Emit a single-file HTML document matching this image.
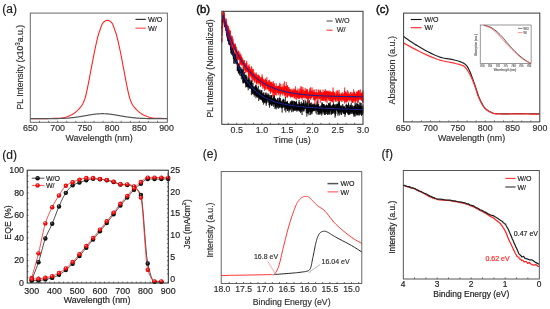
<!DOCTYPE html>
<html><head><meta charset="utf-8"><style>
html,body{margin:0;padding:0;background:#fff;overflow:hidden;}
svg{display:block;font-family:"Liberation Sans", sans-serif;will-change:transform;transform:translateZ(0);}
</style></head><body>
<svg width="550" height="309" viewBox="0 0 550 309">
<rect width="550" height="309" fill="#fff"/>
<text x="2.30" y="12.60" font-size="12" text-anchor="start" fill="#222" stroke="#222" stroke-width="0.18">(a)</text>
<polyline points="30.30,118.70 47.40,118.60 49.00,118.55 51.27,118.50 53.93,118.42 56.70,118.33 59.28,118.19 61.40,118.00 63.04,117.77 64.42,117.50 65.62,117.19 66.71,116.84 67.78,116.45 68.90,116.00 70.05,115.51 71.16,114.99 72.24,114.42 73.31,113.79 74.36,113.09 75.40,112.30 76.46,111.40 77.55,110.38 78.62,109.29 79.64,108.17 80.58,107.06 81.40,106.00 82.09,104.97 82.68,103.94 83.18,102.92 83.62,101.91 84.02,100.94 84.40,100.00 84.73,99.17 84.99,98.44 85.20,97.75 85.40,97.00 85.63,96.11 85.90,95.00 86.23,93.62 86.59,92.04 86.98,90.31 87.36,88.52 87.74,86.72 88.10,85.00 88.43,83.33 88.76,81.67 89.07,80.00 89.38,78.33 89.69,76.67 90.00,75.00 90.32,73.33 90.63,71.67 90.95,70.00 91.27,68.33 91.58,66.67 91.90,65.00 92.21,63.33 92.53,61.67 92.84,60.00 93.15,58.33 93.47,56.67 93.80,55.00 94.13,53.33 94.47,51.67 94.82,50.00 95.17,48.33 95.53,46.67 95.90,45.00 96.29,43.28 96.70,41.48 97.13,39.69 97.54,37.96 97.94,36.38 98.30,35.00 98.62,33.88 98.91,32.96 99.19,32.19 99.45,31.48 99.72,30.78 100.00,30.00 100.29,29.14 100.59,28.26 100.88,27.38 101.18,26.52 101.49,25.72 101.80,25.00 102.10,24.37 102.39,23.80 102.69,23.29 103.01,22.83 103.37,22.40 103.80,22.00 104.31,21.60 104.88,21.21 105.50,20.86 106.14,20.57 106.78,20.37 107.40,20.30 108.02,20.37 108.66,20.57 109.30,20.86 109.92,21.21 110.49,21.60 111.00,22.00 111.43,22.40 111.79,22.83 112.11,23.29 112.41,23.80 112.70,24.37 113.00,25.00 113.31,25.72 113.62,26.52 113.92,27.38 114.21,28.26 114.51,29.14 114.80,30.00 115.08,30.78 115.35,31.48 115.61,32.19 115.89,32.96 116.18,33.88 116.50,35.00 116.86,36.38 117.26,37.96 117.68,39.69 118.10,41.48 118.51,43.28 118.90,45.00 119.27,46.67 119.63,48.33 119.98,50.00 120.33,51.67 120.67,53.33 121.00,55.00 121.33,56.67 121.65,58.33 121.96,60.00 122.27,61.67 122.59,63.33 122.90,65.00 123.22,66.67 123.53,68.33 123.85,70.00 124.17,71.67 124.48,73.33 124.80,75.00 125.11,76.67 125.42,78.33 125.73,80.00 126.04,81.67 126.37,83.33 126.70,85.00 127.06,86.72 127.44,88.52 127.83,90.31 128.21,92.04 128.57,93.62 128.90,95.00 129.17,96.11 129.40,97.00 129.60,97.75 129.81,98.44 130.07,99.17 130.40,100.00 130.78,100.94 131.18,101.91 131.62,102.92 132.12,103.94 132.71,104.97 133.40,106.00 134.22,107.06 135.16,108.17 136.18,109.29 137.25,110.38 138.34,111.40 139.40,112.30 140.44,113.09 141.49,113.79 142.56,114.42 143.64,114.99 144.75,115.51 145.90,116.00 147.02,116.45 148.09,116.84 149.18,117.19 150.38,117.50 151.76,117.77 153.40,118.00 155.52,118.19 158.10,118.33 160.87,118.42 163.53,118.50 165.80,118.55 167.40,118.60 167.40,118.70" fill="none" stroke="#f22" stroke-width="1.1" stroke-linejoin="round"/>
<polyline points="30.30,118.70 30.64,118.70 30.99,118.70 31.33,118.70 31.67,118.70 32.01,118.70 32.36,118.70 32.70,118.70 33.04,118.70 33.38,118.70 33.73,118.70 34.07,118.70 34.41,118.70 34.76,118.70 35.10,118.70 35.44,118.70 35.78,118.70 36.13,118.70 36.47,118.70 36.81,118.70 37.16,118.70 37.50,118.70 37.84,118.70 38.18,118.70 38.53,118.70 38.87,118.70 39.21,118.70 39.55,118.69 39.90,118.69 40.24,118.69 40.58,118.69 40.93,118.69 41.27,118.69 41.61,118.69 41.95,118.69 42.30,118.69 42.64,118.69 42.98,118.69 43.32,118.69 43.67,118.69 44.01,118.69 44.35,118.69 44.70,118.68 45.04,118.68 45.38,118.68 45.72,118.68 46.07,118.68 46.41,118.68 46.75,118.68 47.09,118.68 47.44,118.67 47.78,118.67 48.12,118.67 48.47,118.67 48.81,118.67 49.15,118.66 49.49,118.66 49.84,118.66 50.18,118.66 50.52,118.65 50.87,118.65 51.21,118.65 51.55,118.64 51.89,118.64 52.24,118.64 52.58,118.63 52.92,118.63 53.26,118.62 53.61,118.62 53.95,118.62 54.29,118.61 54.64,118.61 54.98,118.60 55.32,118.59 55.66,118.59 56.01,118.58 56.35,118.57 56.69,118.57 57.03,118.56 57.38,118.55 57.72,118.54 58.06,118.54 58.41,118.53 58.75,118.52 59.09,118.51 59.43,118.50 59.78,118.49 60.12,118.48 60.46,118.46 60.80,118.45 61.15,118.44 61.49,118.43 61.83,118.41 62.18,118.40 62.52,118.39 62.86,118.37 63.20,118.35 63.55,118.34 63.89,118.32 64.23,118.30 64.58,118.28 64.92,118.27 65.26,118.25 65.60,118.23 65.95,118.20 66.29,118.18 66.63,118.16 66.97,118.14 67.32,118.11 67.66,118.09 68.00,118.06 68.35,118.04 68.69,118.01 69.03,117.98 69.37,117.95 69.72,117.92 70.06,117.89 70.40,117.86 70.74,117.83 71.09,117.79 71.43,117.76 71.77,117.72 72.12,117.69 72.46,117.65 72.80,117.61 73.14,117.57 73.49,117.53 73.83,117.49 74.17,117.45 74.51,117.41 74.86,117.37 75.20,117.32 75.54,117.28 75.89,117.23 76.23,117.19 76.57,117.14 76.91,117.09 77.26,117.04 77.60,116.99 77.94,116.94 78.28,116.89 78.63,116.83 78.97,116.78 79.31,116.73 79.66,116.67 80.00,116.62 80.34,116.56 80.68,116.51 81.03,116.45 81.37,116.39 81.71,116.33 82.06,116.27 82.40,116.21 82.74,116.16 83.08,116.10 83.43,116.04 83.77,115.98 84.11,115.91 84.45,115.85 84.80,115.79 85.14,115.73 85.48,115.67 85.83,115.61 86.17,115.55 86.51,115.49 86.85,115.43 87.20,115.37 87.54,115.31 87.88,115.25 88.22,115.19 88.57,115.13 88.91,115.07 89.25,115.01 89.60,114.95 89.94,114.89 90.28,114.84 90.62,114.78 90.97,114.73 91.31,114.67 91.65,114.62 92.00,114.57 92.34,114.52 92.68,114.47 93.02,114.42 93.37,114.37 93.71,114.33 94.05,114.28 94.39,114.24 94.74,114.20 95.08,114.15 95.42,114.12 95.77,114.08 96.11,114.04 96.45,114.01 96.79,113.97 97.14,113.94 97.48,113.91 97.82,113.89 98.16,113.86 98.51,113.84 98.85,113.81 99.19,113.79 99.54,113.78 99.88,113.76 100.22,113.74 100.56,113.73 100.91,113.72 101.25,113.71 101.59,113.71 101.93,113.70 102.28,113.70 102.62,113.70 102.96,113.70 103.31,113.71 103.65,113.71 103.99,113.72 104.33,113.73 104.68,113.74 105.02,113.75 105.36,113.77 105.70,113.79 106.05,113.81 106.39,113.83 106.73,113.85 107.08,113.88 107.42,113.90 107.76,113.93 108.10,113.96 108.45,114.00 108.79,114.03 109.13,114.07 109.48,114.10 109.82,114.14 110.16,114.18 110.50,114.22 110.85,114.27 111.19,114.31 111.53,114.36 111.87,114.41 112.22,114.45 112.56,114.50 112.90,114.55 113.25,114.61 113.59,114.66 113.93,114.71 114.27,114.77 114.62,114.82 114.96,114.88 115.30,114.93 115.64,114.99 115.99,115.05 116.33,115.11 116.67,115.17 117.02,115.23 117.36,115.29 117.70,115.35 118.04,115.41 118.39,115.47 118.73,115.53 119.07,115.59 119.41,115.65 119.76,115.71 120.10,115.77 120.44,115.84 120.79,115.90 121.13,115.96 121.47,116.02 121.81,116.08 122.16,116.14 122.50,116.20 122.84,116.26 123.19,116.32 123.53,116.37 123.87,116.43 124.21,116.49 124.56,116.55 124.90,116.60 125.24,116.66 125.58,116.71 125.93,116.77 126.27,116.82 126.61,116.87 126.96,116.92 127.30,116.97 127.64,117.02 127.98,117.07 128.33,117.12 128.67,117.17 129.01,117.22 129.35,117.26 129.70,117.31 130.04,117.35 130.38,117.40 130.73,117.44 131.07,117.48 131.41,117.52 131.75,117.56 132.10,117.60 132.44,117.64 132.78,117.68 133.12,117.71 133.47,117.75 133.81,117.78 134.15,117.82 134.50,117.85 134.84,117.88 135.18,117.91 135.52,117.94 135.87,117.97 136.21,118.00 136.55,118.03 136.90,118.05 137.24,118.08 137.58,118.11 137.92,118.13 138.27,118.15 138.61,118.18 138.95,118.20 139.29,118.22 139.64,118.24 139.98,118.26 140.32,118.28 140.67,118.30 141.01,118.32 141.35,118.33 141.69,118.35 142.04,118.37 142.38,118.38 142.72,118.40 143.06,118.41 143.41,118.42 143.75,118.44 144.09,118.45 144.44,118.46 144.78,118.47 145.12,118.48 145.46,118.49 145.81,118.51 146.15,118.51 146.49,118.52 146.84,118.53 147.18,118.54 147.52,118.55 147.86,118.56 148.21,118.57 148.55,118.57 148.89,118.58 149.23,118.59 149.58,118.59 149.92,118.60 150.26,118.60 150.61,118.61 150.95,118.61 151.29,118.62 151.63,118.62 151.98,118.63 152.32,118.63 152.66,118.64 153.00,118.64 153.35,118.64 153.69,118.65 154.03,118.65 154.38,118.65 154.72,118.66 155.06,118.66 155.40,118.66 155.75,118.66 156.09,118.67 156.43,118.67 156.77,118.67 157.12,118.67 157.46,118.67 157.80,118.67 158.15,118.68 158.49,118.68 158.83,118.68 159.17,118.68 159.52,118.68 159.86,118.68 160.20,118.68 160.55,118.69 160.89,118.69 161.23,118.69 161.57,118.69 161.92,118.69 162.26,118.69 162.60,118.69 162.94,118.69 163.29,118.69 163.63,118.69 163.97,118.69 164.32,118.69 164.66,118.69 165.00,118.69 165.34,118.69 165.69,118.69 166.03,118.70 166.37,118.70 166.71,118.70 167.06,118.70 167.40,118.70" fill="none" stroke="#555" stroke-width="1.2" stroke-linejoin="round"/>
<rect x="30.3" y="13.1" width="137.10" height="109.20" fill="none" stroke="#6a6a6a" stroke-width="1.0"/>
<text x="30.40" y="131.00" font-size="8.9" text-anchor="middle" fill="#333" stroke="#333" stroke-width="0.18">650</text>
<text x="57.64" y="131.00" font-size="8.9" text-anchor="middle" fill="#333" stroke="#333" stroke-width="0.18">700</text>
<text x="84.88" y="131.00" font-size="8.9" text-anchor="middle" fill="#333" stroke="#333" stroke-width="0.18">750</text>
<text x="112.12" y="131.00" font-size="8.9" text-anchor="middle" fill="#333" stroke="#333" stroke-width="0.18">800</text>
<text x="139.36" y="131.00" font-size="8.9" text-anchor="middle" fill="#333" stroke="#333" stroke-width="0.18">850</text>
<text x="166.60" y="131.00" font-size="8.9" text-anchor="middle" fill="#333" stroke="#333" stroke-width="0.18">900</text>
<line x1="39.48" y1="122.30" x2="39.48" y2="120.80" stroke="#555" stroke-width="0.8"/>
<line x1="48.56" y1="122.30" x2="48.56" y2="120.80" stroke="#555" stroke-width="0.8"/>
<line x1="57.64" y1="122.30" x2="57.64" y2="120.80" stroke="#555" stroke-width="0.8"/>
<line x1="66.72" y1="122.30" x2="66.72" y2="120.80" stroke="#555" stroke-width="0.8"/>
<line x1="75.80" y1="122.30" x2="75.80" y2="120.80" stroke="#555" stroke-width="0.8"/>
<line x1="84.88" y1="122.30" x2="84.88" y2="120.80" stroke="#555" stroke-width="0.8"/>
<line x1="93.96" y1="122.30" x2="93.96" y2="120.80" stroke="#555" stroke-width="0.8"/>
<line x1="103.04" y1="122.30" x2="103.04" y2="120.80" stroke="#555" stroke-width="0.8"/>
<line x1="112.12" y1="122.30" x2="112.12" y2="120.80" stroke="#555" stroke-width="0.8"/>
<line x1="121.20" y1="122.30" x2="121.20" y2="120.80" stroke="#555" stroke-width="0.8"/>
<line x1="130.28" y1="122.30" x2="130.28" y2="120.80" stroke="#555" stroke-width="0.8"/>
<line x1="139.36" y1="122.30" x2="139.36" y2="120.80" stroke="#555" stroke-width="0.8"/>
<line x1="148.44" y1="122.30" x2="148.44" y2="120.80" stroke="#555" stroke-width="0.8"/>
<line x1="157.52" y1="122.30" x2="157.52" y2="120.80" stroke="#555" stroke-width="0.8"/>
<text x="99.00" y="140.60" font-size="8.9" text-anchor="middle" fill="#333" stroke="#333" stroke-width="0.18">Wavelength (nm)</text>
<text x="23.50" y="67.20" font-size="8.6" text-anchor="middle" fill="#333" stroke="#333" stroke-width="0.18" transform="rotate(-90 23.5 67.2)">PL Intensity (x10<tspan font-size="6.3" dy="-3">3</tspan><tspan dy="3">a.u.)</tspan></text>
<line x1="135.50" y1="19.40" x2="145.80" y2="19.40" stroke="#333" stroke-width="1.2"/>
<text x="148.00" y="22.10" font-size="7.2" text-anchor="start" fill="#222" stroke="#222" stroke-width="0.18">W/O</text>
<line x1="135.50" y1="28.20" x2="145.80" y2="28.20" stroke="#f55" stroke-width="1.2"/>
<text x="148.00" y="30.90" font-size="7.2" text-anchor="start" fill="#222" stroke="#222" stroke-width="0.18">W/</text>
<text x="196.20" y="13.20" font-size="11.4" text-anchor="start" fill="#111" stroke="#111" stroke-width="0.18" style="stroke-width:0.45px">(b)</text>
<polyline points="221.80,29.98 221.86,27.07 221.92,26.85 221.98,28.18 222.04,27.15 222.09,26.45 222.15,27.88 222.21,26.33 222.27,19.31 222.33,22.49 222.39,23.20 222.45,20.95 222.51,23.44 222.56,26.76 222.62,24.73 222.68,18.60 222.74,19.92 222.80,20.43 222.86,16.42 222.92,22.22 222.98,18.87 223.04,13.32 223.09,20.92 223.15,15.68 223.21,13.39 223.27,15.87 223.33,18.74 223.39,19.37 223.45,17.96 223.51,13.43 223.56,15.71 223.62,14.10 223.68,16.51 223.74,12.44 223.80,19.31 223.86,20.57 223.92,11.87 223.98,17.32 224.04,22.56 224.09,20.46 224.15,21.54 224.21,22.35 224.27,22.42 224.33,24.82 224.39,22.91 224.45,19.81 224.51,16.67 224.57,25.15 224.62,27.13 224.68,22.29 224.74,24.88 224.80,26.58 224.86,22.32 224.92,23.87 224.98,26.80 225.04,23.03 225.09,24.19 225.15,23.98 225.21,22.12 225.27,21.68 225.33,27.45 225.39,28.37 225.45,26.55 225.51,28.06 225.57,27.45 225.62,26.91 225.68,28.80 225.74,28.35 225.80,26.58 225.86,30.60 225.92,29.29 225.98,20.98 226.04,29.37 226.09,29.61 226.15,31.06 226.21,27.90 226.27,30.69 226.33,29.61 226.39,29.97 226.45,28.98 226.51,27.25 226.57,33.64 226.62,35.44 226.68,30.34 226.74,33.41 226.80,24.06 226.86,27.88 226.92,27.99 226.98,36.02 227.04,33.34 227.09,33.44 227.15,37.71 227.21,32.64 227.27,30.40 227.33,33.19 227.39,36.24 227.45,36.28 227.51,30.28 227.57,32.09 227.62,30.85 227.68,37.51 227.74,32.85 227.80,32.49 227.86,40.63 227.92,40.77 227.98,35.96 228.04,40.78 228.10,35.17 228.15,38.33 228.21,34.41 228.27,41.90 228.33,37.28 228.39,40.98 228.45,38.60 228.51,37.70 228.57,37.56 228.62,41.27 228.68,37.34 228.74,41.74 228.80,43.39 228.86,42.78 228.92,44.64 228.98,42.74 229.04,37.26 229.10,43.71 229.15,40.78 229.21,40.95 229.27,41.92 229.33,41.58 229.39,44.56 229.45,38.21 229.51,45.19 229.57,40.55 229.62,44.78 229.68,45.03 229.74,39.48 229.80,41.25 229.86,41.66 229.92,41.27 229.98,43.37 230.04,44.96 230.10,45.06 230.15,38.68 230.21,43.71 230.27,42.17 230.33,43.57 230.39,47.27 230.45,46.25 230.51,47.41 230.57,39.65 230.62,49.68 230.68,44.72 230.74,41.17 230.80,53.50 230.86,48.66 230.92,46.50 230.98,49.66 231.04,46.97 231.10,49.82 231.15,47.05 231.21,46.76 231.27,48.29 231.33,45.74 231.39,51.67 231.45,41.03 231.51,50.13 231.57,50.16 231.63,50.62 231.68,52.29 231.74,47.44 231.80,54.91 231.86,47.91 231.92,50.56 231.98,47.38 232.04,53.39 232.10,46.66 232.15,53.61 232.21,53.27 232.27,51.86 232.33,49.11 232.39,52.97 232.45,51.27 232.51,52.90 232.57,52.59 232.63,54.45 232.68,49.94 232.74,52.51 232.80,53.14 232.86,53.37 232.92,49.38 232.98,56.26 233.04,52.82 233.10,50.74 233.15,53.89 233.21,56.03 233.27,46.43 233.33,58.80 233.39,50.42 233.45,56.07 233.51,55.24 233.57,56.94 233.63,56.79 233.68,58.04 233.74,52.25 233.80,57.67 233.86,58.82 233.92,58.51 233.98,63.43 234.04,55.58 234.10,63.89 234.16,59.06 234.21,56.71 234.27,57.39 234.33,60.29 234.39,57.24 234.45,58.89 234.51,57.65 234.57,59.63 234.63,55.98 234.68,53.71 234.74,52.29 234.80,59.92 234.86,58.27 234.92,54.47 234.98,60.23 235.04,56.33 235.10,53.77 235.16,61.91 235.21,59.20 235.27,54.39 235.33,56.56 235.39,55.73 235.45,60.68 235.51,62.14 235.57,63.63 235.63,58.94 235.68,57.43 235.74,60.71 235.80,56.24 235.86,60.93 235.92,60.24 235.98,59.08 236.04,62.46 236.10,59.63 236.16,53.83 236.21,61.98 236.27,62.59 236.33,58.16 236.39,61.39 236.45,64.22 236.51,60.12 236.57,62.54 236.63,63.72 236.68,59.08 236.74,61.00 236.80,62.95 236.86,63.73 236.92,62.37 236.98,62.77 237.04,64.20 237.10,57.09 237.16,64.84 237.21,71.03 237.27,68.11 237.33,67.28 237.39,64.21 237.45,61.67 237.51,61.99 237.57,71.22 237.63,65.26 237.69,65.41 237.74,66.22 237.80,67.66 237.86,70.82 237.92,65.92 237.98,64.76 238.04,64.09 238.10,64.87 238.16,68.48 238.21,66.49 238.27,69.01 238.33,67.68 238.39,70.19 238.45,73.66 238.51,69.45 238.57,67.16 238.63,72.60 238.69,64.02 238.74,62.97 238.80,66.47 238.86,67.02 238.92,64.89 238.98,64.00 239.04,69.19 239.10,67.75 239.16,69.01 239.21,73.21 239.27,68.46 239.33,66.88 239.39,68.01 239.45,70.65 239.51,75.37 239.57,69.44 239.63,64.11 239.69,70.13 239.74,70.94 239.80,70.94 239.86,72.24 239.92,67.55 239.98,67.24 240.04,72.17 240.10,72.31 240.16,71.48 240.21,70.40 240.27,70.73 240.33,69.40 240.39,73.23 240.45,73.02 240.51,69.68 240.57,70.96 240.63,72.43 240.69,69.63 240.74,71.71 240.80,76.03 240.86,66.89 240.92,71.70 240.98,73.25 241.04,71.69 241.10,70.75 241.16,68.58 241.22,73.61 241.27,73.99 241.33,79.33 241.39,71.01 241.45,74.67 241.51,69.79 241.57,74.01 241.63,72.81 241.69,74.84 241.74,73.37 241.80,76.78 241.86,72.77 241.92,71.74 241.98,76.22 242.04,73.04 242.10,74.82 242.16,74.41 242.22,75.54 242.27,68.84 242.33,75.43 242.39,77.36 242.45,73.13 242.51,70.44 242.57,75.03 242.63,74.72 242.69,73.39 242.74,80.22 242.80,82.36 242.86,75.65 242.92,78.67 242.98,69.71 243.04,78.21 243.10,83.63 243.16,76.84 243.22,77.27 243.27,72.71 243.33,66.41 243.39,75.42 243.45,82.84 243.51,75.95 243.57,74.36 243.63,78.74 243.69,77.18 243.74,79.73 243.80,76.77 243.86,76.83 243.92,81.59 243.98,74.69 244.04,78.56 244.10,82.32 244.16,80.34 244.22,77.41 244.27,80.76 244.33,77.20 244.39,78.35 244.45,77.14 244.51,72.11 244.57,80.36 244.63,77.44 244.69,83.18 244.75,80.81 244.80,78.89 244.86,76.80 244.92,78.73 244.98,82.32 245.04,77.21 245.10,80.67 245.16,80.76 245.22,78.60 245.27,75.00 245.33,75.10 245.39,78.06 245.45,82.25 245.51,78.70 245.57,84.52 245.63,81.08 245.69,80.89 245.75,87.42 245.80,74.53 245.86,81.58 245.92,82.40 245.98,77.49 246.04,83.63 246.10,77.74 246.16,75.18 246.22,79.62 246.27,78.93 246.33,79.91 246.39,79.21 246.45,83.40 246.51,86.25 246.57,80.17 246.63,86.98 246.69,81.46 246.75,77.70 246.80,81.64 246.86,82.65 246.92,76.47 246.98,82.57 247.04,83.32 247.10,81.48 247.16,81.02 247.22,79.93 247.27,87.39 247.33,81.99 247.39,80.24 247.45,85.33 247.51,84.21 247.57,86.69 247.63,81.25 247.69,83.11 247.75,81.33 247.80,84.89 247.86,79.65 247.92,83.75 247.98,85.55 248.04,82.41 248.10,87.29 248.16,84.81 248.22,90.33 248.28,87.16 248.33,86.12 248.39,76.48 248.45,85.37 248.51,82.06 248.57,84.30 248.63,86.62 248.69,87.56 248.75,84.71 248.80,84.71 248.86,79.52 248.92,86.66 248.98,87.08 249.04,86.54 249.10,83.86 249.16,86.93 249.22,77.75 249.28,86.38 249.33,82.26 249.39,85.20 249.45,83.88 249.51,82.95 249.57,83.78 249.63,83.38 249.69,88.62 249.75,83.90 249.80,88.46 249.86,85.34 249.92,87.26 249.98,79.69 250.04,86.82 250.10,85.13 250.16,84.77 250.22,83.93 250.28,84.37 250.33,88.06 250.39,88.19 250.45,87.37 250.51,87.01 250.57,86.62 250.63,81.52 250.69,87.09 250.75,86.92 250.80,88.97 250.86,88.52 250.92,86.83 250.98,86.04 251.04,82.01 251.10,87.01 251.16,87.08 251.22,86.73 251.28,79.72 251.33,82.05 251.39,95.10 251.45,87.84 251.51,86.66 251.57,81.09 251.63,88.74 251.69,86.02 251.75,86.38 251.81,86.37 251.86,87.82 251.92,90.16 251.98,87.94 252.04,88.52 252.10,93.94 252.16,82.66 252.22,92.72 252.28,90.71 252.33,86.34 252.39,85.83 252.45,85.64 252.51,94.17 252.57,86.54 252.63,86.54 252.69,88.55 252.75,92.63 252.81,89.54 252.86,88.04 252.92,87.01 252.98,82.67 253.04,86.93 253.10,89.35 253.16,89.60 253.22,87.25 253.28,88.88 253.33,90.96 253.39,88.98 253.45,89.59 253.51,91.29 253.57,93.45 253.63,88.67 253.69,87.46 253.75,94.93 253.81,91.53 253.86,92.28 253.92,86.34 253.98,91.37 254.04,90.41 254.10,89.14 254.16,87.73 254.22,88.46 254.28,96.61 254.33,91.36 254.39,91.63 254.45,92.31 254.51,90.84 254.57,90.03 254.63,94.43 254.69,90.54 254.75,89.12 254.81,93.11 254.86,92.70 254.92,86.43 254.98,91.21 255.04,87.80 255.10,87.91 255.16,92.50 255.22,92.01 255.28,95.40 255.34,86.03 255.39,89.14 255.45,90.38 255.51,88.03 255.57,95.65 255.63,91.12 255.69,91.27 255.75,93.79 255.81,84.74 255.86,89.19 255.92,90.05 255.98,98.18 256.04,88.66 256.10,85.03 256.16,93.08 256.22,86.65 256.28,93.91 256.34,91.11 256.39,96.15 256.45,95.26 256.51,92.85 256.57,96.51 256.63,93.75 256.69,92.62 256.75,88.67 256.81,88.09 256.86,94.17 256.92,96.71 256.98,87.17 257.04,95.11 257.10,89.23 257.16,94.08 257.22,93.40 257.28,88.61 257.34,88.95 257.39,91.29 257.45,93.86 257.51,91.17 257.57,95.94 257.63,93.52 257.69,97.78 257.75,95.20 257.81,92.60 257.86,90.18 257.92,94.04 257.98,95.45 258.04,97.27 258.10,93.12 258.16,92.68 258.22,92.08 258.28,93.75 258.34,85.79 258.39,93.91 258.45,94.14 258.51,97.01 258.57,98.44 258.63,100.94 258.69,96.01 258.75,90.85 258.81,96.76 258.87,96.66 258.92,89.40 258.98,92.30 259.04,95.99 259.10,93.56 259.16,93.97 259.22,96.61 259.28,92.49 259.34,98.66 259.39,97.77 259.45,93.65 259.51,90.46 259.57,96.79 259.63,99.35 259.69,90.71 259.75,97.54 259.81,91.08 259.87,97.19 259.92,93.52 259.98,97.27 260.04,89.67 260.10,96.45 260.16,97.68 260.22,94.90 260.28,96.84 260.34,94.49 260.39,99.70 260.45,97.00 260.51,94.82 260.57,92.30 260.63,99.32 260.69,96.69 260.75,95.99 260.81,98.58 260.87,92.38 260.92,93.23 260.98,98.73 261.04,98.38 261.10,94.06 261.16,93.61 261.22,96.81 261.28,89.97 261.34,91.44 261.39,92.43 261.45,93.49 261.51,99.77 261.57,97.79 261.63,91.59 261.69,94.52 261.75,97.63 261.81,94.13 261.87,90.26 261.92,100.13 261.98,93.47 262.04,96.84 262.10,97.24 262.16,100.70 262.22,95.17 262.28,98.74 262.34,95.35 262.39,96.24 262.45,93.50 262.51,100.40 262.57,100.94 262.63,99.78 262.69,102.56 262.75,97.56 262.81,99.71 262.87,97.10 262.92,99.03 262.98,98.74 263.04,101.66 263.10,95.68 263.16,102.14 263.22,98.31 263.28,100.74 263.34,93.30 263.40,97.88 263.45,104.58 263.51,100.53 263.57,92.42 263.63,97.78 263.69,96.88 263.75,95.02 263.81,95.55 263.87,98.99 263.92,98.30 263.98,97.58 264.04,99.67 264.10,100.71 264.16,99.39 264.22,95.32 264.28,95.20 264.34,99.61 264.40,94.90 264.45,101.99 264.51,97.42 264.57,98.34 264.63,96.04 264.69,98.85 264.75,102.92 264.81,99.33 264.87,95.08 264.92,103.34 264.98,94.87 265.04,92.73 265.10,92.73 265.16,102.36 265.22,97.26 265.28,100.47 265.34,97.47 265.40,99.85 265.45,98.35 265.51,98.67 265.57,98.55 265.63,96.98 265.69,98.66 265.75,99.20 265.81,93.70 265.87,100.66 265.93,98.27 265.98,95.45 266.04,99.32 266.10,92.52 266.16,105.85 266.22,98.48 266.28,98.27 266.34,94.78 266.40,103.69 266.45,101.27 266.51,98.05 266.57,101.88 266.63,100.63 266.69,96.80 266.75,96.36 266.81,98.94 266.87,98.70 266.93,94.81 266.98,101.29 267.04,102.78 267.10,95.33 267.16,100.32 267.22,96.80 267.28,99.98 267.34,99.32 267.40,97.40 267.45,95.02 267.51,97.19 267.57,96.64 267.63,95.70 267.69,97.60 267.75,96.66 267.81,98.14 267.87,100.22 267.93,93.18 267.98,97.25 268.04,95.01 268.10,98.76 268.16,102.51 268.22,102.46 268.28,94.43 268.34,100.98 268.40,100.10 268.45,96.24 268.51,98.25 268.57,100.08 268.63,96.12 268.69,99.48 268.75,100.61 268.81,98.35 268.87,100.37 268.93,100.11 268.98,105.23 269.04,103.11 269.10,100.46 269.16,97.96 269.22,98.25 269.28,101.68 269.34,94.60 269.40,98.98 269.45,96.91 269.51,101.89 269.57,107.75 269.63,99.86 269.69,100.70 269.75,99.26 269.81,104.71 269.87,105.36 269.93,100.50 269.98,103.24 270.04,102.10 270.10,104.58 270.16,103.67 270.22,98.34 270.28,103.91 270.34,98.86 270.40,99.62 270.46,103.54 270.51,95.45 270.57,104.12 270.63,99.93 270.69,99.25 270.75,103.38 270.81,103.86 270.87,97.11 270.93,98.60 270.98,100.87 271.04,102.67 271.10,95.34 271.16,102.35 271.22,95.54 271.28,99.95 271.34,96.75 271.40,95.12 271.46,102.03 271.51,99.34 271.57,105.67 271.63,100.21 271.69,98.40 271.75,101.57 271.81,106.00 271.87,98.08 271.93,103.96 271.98,99.14 272.04,98.29 272.10,98.95 272.16,101.86 272.22,103.08 272.28,105.43 272.34,104.20 272.40,103.40 272.46,102.11 272.51,101.38 272.57,103.99 272.63,99.83 272.69,99.96 272.75,101.44 272.81,103.39 272.87,99.06 272.93,100.65 272.99,98.59 273.04,99.99 273.10,94.87 273.16,102.47 273.22,103.43 273.28,102.17 273.34,99.66 273.40,103.57 273.46,101.20 273.51,100.10 273.57,106.83 273.63,105.56 273.69,96.24 273.75,99.33 273.81,102.43 273.87,99.99 273.93,102.73 273.99,104.65 274.04,98.36 274.10,101.22 274.16,97.57 274.22,95.31 274.28,102.61 274.34,95.21 274.40,99.90 274.46,99.45 274.51,103.71 274.57,103.64 274.63,102.37 274.69,103.79 274.75,101.79 274.81,100.36 274.87,103.74 274.93,108.91 274.99,97.77 275.04,104.73 275.10,106.14 275.16,98.93 275.22,103.14 275.28,99.42 275.34,101.24 275.40,103.39 275.46,98.85 275.51,107.08 275.57,105.44 275.63,104.40 275.69,100.30 275.75,105.46 275.81,108.25 275.87,107.85 275.93,104.74 275.99,100.86 276.04,102.96 276.10,104.58 276.16,109.36 276.22,102.59 276.28,104.07 276.34,102.10 276.40,100.34 276.46,102.68 276.51,100.28 276.57,102.92 276.63,99.72 276.69,105.67 276.75,101.76 276.81,102.17 276.87,107.37 276.93,101.02 276.99,103.50 277.04,100.78 277.10,104.89 277.16,100.00 277.22,99.42 277.28,104.01 277.34,100.05 277.40,102.06 277.46,100.61 277.52,98.20 277.57,103.10 277.63,101.33 277.69,101.46 277.75,108.16 277.81,104.43 277.87,105.98 277.93,103.28 277.99,104.36 278.04,106.37 278.10,97.92 278.16,107.36 278.22,106.54 278.28,105.48 278.34,102.32 278.40,103.01 278.46,103.18 278.52,102.92 278.57,104.58 278.63,108.72 278.69,103.63 278.75,101.59 278.81,103.85 278.87,101.80 278.93,102.16 278.99,100.10 279.04,103.90 279.10,103.63 279.16,104.97 279.22,104.41 279.28,100.40 279.34,106.58 279.40,101.84 279.46,97.52 279.52,105.55 279.57,100.63 279.63,107.85 279.69,101.05 279.75,106.28 279.81,106.90 279.87,97.66 279.93,98.55 279.99,104.88 280.05,101.97 280.10,106.79 280.16,101.73 280.22,103.57 280.28,105.21 280.34,104.02 280.40,102.88 280.46,102.26 280.52,98.25 280.57,103.37 280.63,102.12 280.69,101.82 280.75,102.19 280.81,102.41 280.87,103.55 280.93,103.24 280.99,107.91 281.05,106.66 281.10,103.05 281.16,107.25 281.22,103.69 281.28,105.13 281.34,106.91 281.40,106.18 281.46,106.00 281.52,100.74 281.57,102.32 281.63,108.48 281.69,105.03 281.75,102.03 281.81,106.18 281.87,107.61 281.93,106.78 281.99,104.41 282.05,102.59 282.10,103.06 282.16,112.63 282.22,109.05 282.28,105.19 282.34,102.03 282.40,105.40 282.46,106.06 282.52,105.65 282.57,103.15 282.63,106.53 282.69,107.85 282.75,100.62 282.81,101.24 282.87,99.64 282.93,101.14 282.99,99.99 283.05,103.68 283.10,104.27 283.16,100.65 283.22,104.59 283.28,103.18 283.34,98.76 283.40,102.76 283.46,105.49 283.52,102.17 283.57,106.91 283.63,106.28 283.69,99.10 283.75,104.61 283.81,106.88 283.87,107.63 283.93,104.03 283.99,103.42 284.05,100.06 284.10,104.18 284.16,107.53 284.22,104.76 284.28,103.37 284.34,102.33 284.40,102.26 284.46,104.37 284.52,102.12 284.58,107.81 284.63,110.46 284.69,101.63 284.75,106.45 284.81,107.00 284.87,102.16 284.93,104.11 284.99,106.35 285.05,104.81 285.10,103.88 285.16,107.12 285.22,104.17 285.28,104.81 285.34,102.20 285.40,96.97 285.46,102.99 285.52,106.96 285.58,104.73 285.63,106.69 285.69,102.12 285.75,112.38 285.81,104.38 285.87,107.73 285.93,109.21 285.99,105.12 286.05,101.84 286.10,103.41 286.16,105.14 286.22,109.26 286.28,103.16 286.34,103.78 286.40,106.31 286.46,103.77 286.52,106.20 286.58,104.41 286.63,101.75 286.69,105.36 286.75,102.66 286.81,102.56 286.87,107.22 286.93,108.90 286.99,103.92 287.05,106.14 287.11,107.32 287.16,101.63 287.22,106.78 287.28,106.17 287.34,102.91 287.40,111.02 287.46,103.07 287.52,100.92 287.58,105.55 287.63,108.24 287.69,103.36 287.75,110.89 287.81,105.90 287.87,107.19 287.93,106.86 287.99,104.99 288.05,104.89 288.11,104.84 288.16,106.06 288.22,109.26 288.28,107.22 288.34,107.69 288.40,106.26 288.46,103.23 288.52,109.28 288.58,106.79 288.63,104.23 288.69,107.47 288.75,103.95 288.81,109.27 288.87,110.68 288.93,112.46 288.99,105.53 289.05,106.05 289.11,103.44 289.16,103.35 289.22,107.24 289.28,104.38 289.34,104.59 289.40,105.36 289.46,110.61 289.52,108.49 289.58,104.66 289.63,106.48 289.69,110.78 289.75,109.58 289.81,108.08 289.87,108.35 289.93,106.77 289.99,107.68 290.05,109.05 290.11,108.66 290.16,103.07 290.22,101.92 290.28,107.53 290.34,106.62 290.40,103.51 290.46,108.05 290.52,103.76 290.58,103.63 290.63,104.53 290.69,110.11 290.75,101.32 290.81,106.09 290.87,107.53 290.93,108.59 290.99,106.52 291.05,104.53 291.11,102.74 291.16,103.76 291.22,107.70 291.28,106.06 291.34,101.63 291.40,106.81 291.46,102.84 291.52,106.63 291.58,109.30 291.64,112.24 291.69,104.79 291.75,103.30 291.81,100.59 291.87,107.28 291.93,105.05 291.99,104.17 292.05,100.63 292.11,103.78 292.16,107.59 292.22,107.61 292.28,105.44 292.34,105.25 292.40,101.10 292.46,109.77 292.52,105.35 292.58,105.55 292.64,107.15 292.69,107.19 292.75,107.63 292.81,102.02 292.87,108.34 292.93,105.89 292.99,105.15 293.05,111.95 293.11,109.13 293.16,110.84 293.22,104.77 293.28,110.00 293.34,104.38 293.40,100.82 293.46,107.85 293.52,107.79 293.58,107.16 293.64,110.56 293.69,106.76 293.75,109.22 293.81,107.65 293.87,106.51 293.93,106.10 293.99,108.66 294.05,105.89 294.11,108.48 294.17,107.12 294.22,106.27 294.28,104.36 294.34,101.51 294.40,104.59 294.46,107.99 294.52,107.28 294.58,104.36 294.64,110.23 294.69,100.97 294.75,110.87 294.81,102.27 294.87,108.10 294.93,104.20 294.99,109.17 295.05,110.49 295.11,107.33 295.17,104.83 295.22,102.40 295.28,102.59 295.34,106.64 295.40,108.57 295.46,105.95 295.52,104.94 295.58,109.23 295.64,107.00 295.69,107.26 295.75,106.36 295.81,101.78 295.87,103.61 295.93,110.77 295.99,106.32 296.05,109.25 296.11,101.93 296.17,105.63 296.22,109.64 296.28,105.59 296.34,107.79 296.40,109.53 296.46,105.52 296.52,100.79 296.58,105.71 296.64,105.73 296.69,103.13 296.75,110.30 296.81,105.73 296.87,104.75 296.93,111.74 296.99,107.05 297.05,103.88 297.11,108.91 297.17,109.49 297.22,108.53 297.28,105.60 297.34,107.96 297.40,104.44 297.46,110.52 297.52,108.08 297.58,106.36 297.64,107.04 297.69,110.54 297.75,109.08 297.81,106.19 297.87,107.44 297.93,108.97 297.99,105.40 298.05,105.41 298.11,106.58 298.17,110.12 298.22,107.98 298.28,105.94 298.34,105.32 298.40,105.90 298.46,109.68 298.52,107.26 298.58,109.28 298.64,103.96 298.70,104.31 298.75,104.23 298.81,104.02 298.87,111.11 298.93,111.07 298.99,102.03 299.05,108.91 299.11,99.93 299.17,106.11 299.22,106.16 299.28,105.40 299.34,111.29 299.40,105.01 299.46,109.95 299.52,103.75 299.58,107.40 299.64,110.35 299.70,110.41 299.75,111.31 299.81,108.14 299.87,104.50 299.93,102.15 299.99,106.90 300.05,108.45 300.11,107.00 300.17,106.33 300.22,111.96 300.28,104.47 300.34,107.35 300.40,104.70 300.46,104.25 300.52,108.30 300.58,113.12 300.64,106.66 300.70,109.53 300.75,107.90 300.81,108.89 300.87,107.29 300.93,107.66 300.99,109.30 301.05,107.62 301.11,105.13 301.17,110.55 301.23,110.93 301.28,105.90 301.34,107.15 301.40,105.34 301.46,103.61 301.52,104.15 301.58,109.00 301.64,101.57 301.70,105.58 301.75,111.87 301.81,103.78 301.87,105.22 301.93,106.32 301.99,108.23 302.05,115.02 302.11,107.59 302.17,109.39 302.23,108.55 302.28,107.55 302.34,108.20 302.40,106.26 302.46,108.24 302.52,109.67 302.58,103.68 302.64,106.30 302.70,105.50 302.75,108.20 302.81,103.17 302.87,111.25 302.93,109.89 302.99,108.73 303.05,105.97 303.11,107.98 303.17,109.33 303.23,105.42 303.28,108.52 303.34,103.89 303.40,105.85 303.46,99.98 303.52,106.70 303.58,101.89 303.64,108.73 303.70,110.74 303.75,104.49 303.81,106.49 303.87,111.70 303.93,105.05 303.99,105.06 304.05,108.50 304.11,108.60 304.17,110.37 304.23,106.17 304.28,107.57 304.34,105.78 304.40,107.40 304.46,104.43 304.52,108.61 304.58,108.83 304.64,106.24 304.70,104.70 304.75,106.58 304.81,106.07 304.87,105.97 304.93,105.29 304.99,102.75 305.05,105.07 305.11,99.63 305.17,108.22 305.23,106.54 305.28,107.84 305.34,108.20 305.40,104.84 305.46,107.43 305.52,106.31 305.58,107.85 305.64,108.84 305.70,106.96 305.76,106.57 305.81,109.06 305.87,101.08 305.93,108.21 305.99,105.48 306.05,107.24 306.11,105.61 306.17,104.57 306.23,113.24 306.28,110.59 306.34,109.31 306.40,111.00 306.46,109.03 306.52,111.14 306.58,106.28 306.64,109.84 306.70,110.75 306.76,109.61 306.81,103.52 306.87,116.58 306.93,111.37 306.99,112.51 307.05,106.02 307.11,102.31 307.17,110.25 307.23,108.26 307.28,111.45 307.34,105.89 307.40,104.86 307.46,113.55 307.52,111.61 307.58,106.35 307.64,100.65 307.70,108.36 307.76,112.81 307.81,108.14 307.87,111.60 307.93,108.78 307.99,106.62 308.05,113.27 308.11,101.92 308.17,107.69 308.23,112.90 308.28,107.05 308.34,107.73 308.40,108.38 308.46,108.92 308.52,113.25 308.58,110.12 308.64,110.13 308.70,111.80 308.76,111.63 308.81,107.83 308.87,110.54 308.93,106.53 308.99,115.26 309.05,104.70 309.11,109.65 309.17,108.95 309.23,108.79 309.29,109.89 309.34,108.19 309.40,103.97 309.46,106.88 309.52,100.22 309.58,104.61 309.64,109.40 309.70,111.69 309.76,109.77 309.81,108.77 309.87,107.91 309.93,103.76 309.99,111.90 310.05,109.43 310.11,109.29 310.17,103.70 310.23,107.43 310.29,105.53 310.34,105.04 310.40,115.04 310.46,107.98 310.52,105.20 310.58,102.81 310.64,112.03 310.70,105.14 310.76,105.16 310.81,107.32 310.87,105.69 310.93,105.36 310.99,111.93 311.05,114.31 311.11,108.77 311.17,107.55 311.23,109.59 311.29,106.44 311.34,107.48 311.40,106.05 311.46,112.78 311.52,109.05 311.58,102.60 311.64,107.40 311.70,111.76 311.76,106.69 311.81,109.86 311.87,109.69 311.93,104.73 311.99,108.42 312.05,114.09 312.11,105.09 312.17,108.78 312.23,106.43 312.29,105.57 312.34,107.81 312.40,110.01 312.46,108.46 312.52,111.69 312.58,108.74 312.64,105.83 312.70,110.04 312.76,107.01 312.82,103.78 312.87,111.02 312.93,104.24 312.99,108.75 313.05,109.11 313.11,105.77 313.17,110.43 313.23,105.63 313.29,110.66 313.34,107.29 313.40,107.33 313.46,111.24 313.52,109.14 313.58,105.33 313.64,107.62 313.70,105.34 313.76,108.80 313.82,108.93 313.87,105.64 313.93,109.19 313.99,109.43 314.05,107.79 314.11,104.02 314.17,108.68 314.23,104.87 314.29,103.27 314.34,109.60 314.40,110.71 314.46,108.96 314.52,104.49 314.58,109.71 314.64,105.00 314.70,109.73 314.76,110.13 314.82,108.18 314.87,107.07 314.93,111.27 314.99,108.58 315.05,110.49 315.11,110.31 315.17,105.40 315.23,108.06 315.29,109.05 315.35,104.40 315.40,106.53 315.46,109.19 315.52,107.64 315.58,109.04 315.64,106.90 315.70,106.46 315.76,106.51 315.82,109.10 315.87,107.69 315.93,107.29 315.99,113.43 316.05,112.73 316.11,104.65 316.17,110.23 316.23,110.35 316.29,109.43 316.35,107.63 316.40,107.49 316.46,107.30 316.52,106.60 316.58,105.11 316.64,104.49 316.70,110.27 316.76,106.97 316.82,107.39 316.87,109.13 316.93,101.41 316.99,110.54 317.05,114.67 317.11,106.83 317.17,109.94 317.23,109.82 317.29,110.42 317.35,107.14 317.40,107.77 317.46,107.05 317.52,107.00 317.58,100.68 317.64,108.88 317.70,111.25 317.76,112.01 317.82,110.22 317.87,105.38 317.93,107.14 317.99,107.13 318.05,103.95 318.11,107.12 318.17,111.03 318.23,105.04 318.29,107.90 318.35,109.00 318.40,106.37 318.46,109.29 318.52,114.54 318.58,106.74 318.64,108.13 318.70,104.06 318.76,114.25 318.82,107.70 318.88,111.22 318.93,113.26 318.99,113.09 319.05,109.54 319.11,108.02 319.17,106.87 319.23,106.67 319.29,109.23 319.35,110.90 319.40,111.32 319.46,110.75 319.52,107.03 319.58,114.57 319.64,113.38 319.70,106.15 319.76,109.56 319.82,107.53 319.88,108.62 319.93,110.73 319.99,111.62 320.05,108.42 320.11,111.34 320.17,110.00 320.23,114.41 320.29,108.49 320.35,109.22 320.40,108.93 320.46,106.67 320.52,113.35 320.58,110.44 320.64,109.13 320.70,108.30 320.76,107.81 320.82,107.58 320.88,105.72 320.93,107.58 320.99,112.51 321.05,108.50 321.11,105.59 321.17,106.16 321.23,105.61 321.29,108.40 321.35,107.51 321.40,109.30 321.46,113.33 321.52,107.12 321.58,109.94 321.64,110.56 321.70,115.54 321.76,108.54 321.82,109.07 321.88,102.41 321.93,104.51 321.99,112.50 322.05,104.44 322.11,111.18 322.17,110.05 322.23,107.73 322.29,107.10 322.35,102.65 322.40,105.96 322.46,104.13 322.52,107.00 322.58,104.15 322.64,106.90 322.70,107.81 322.76,108.20 322.82,107.68 322.88,114.22 322.93,110.60 322.99,109.25 323.05,108.99 323.11,104.50 323.17,111.89 323.23,104.47 323.29,106.77 323.35,109.40 323.41,104.20 323.46,112.01 323.52,104.31 323.58,108.82 323.64,108.87 323.70,105.94 323.76,106.77 323.82,110.46 323.88,113.18 323.93,107.10 323.99,109.95 324.05,105.76 324.11,104.29 324.17,111.77 324.23,110.14 324.29,110.87 324.35,108.04 324.41,114.77 324.46,104.84 324.52,110.87 324.58,107.82 324.64,108.64 324.70,107.27 324.76,108.76 324.82,115.01 324.88,110.27 324.93,111.49 324.99,110.97 325.05,106.14 325.11,113.46 325.17,106.14 325.23,110.66 325.29,111.31 325.35,112.06 325.41,106.73 325.46,108.21 325.52,106.94 325.58,114.81 325.64,110.75 325.70,105.44 325.76,110.38 325.82,105.87 325.88,108.05 325.94,110.23 325.99,107.06 326.05,111.88 326.11,108.42 326.17,111.86 326.23,107.02 326.29,106.45 326.35,108.02 326.41,108.28 326.46,104.76 326.52,113.94 326.58,104.56 326.64,110.56 326.70,106.40 326.76,106.29 326.82,111.56 326.88,107.67 326.94,107.11 326.99,109.77 327.05,111.61 327.11,107.36 327.17,111.19 327.23,108.23 327.29,111.70 327.35,110.31 327.41,110.67 327.46,108.38 327.52,114.99 327.58,110.61 327.64,105.09 327.70,110.44 327.76,105.65 327.82,107.36 327.88,106.59 327.94,113.84 327.99,108.49 328.05,107.29 328.11,108.10 328.17,105.61 328.23,114.41 328.29,111.09 328.35,110.50 328.41,104.58 328.46,111.69 328.52,110.55 328.58,102.96 328.64,105.64 328.70,106.09 328.76,107.21 328.82,111.39 328.88,106.44 328.94,114.37 328.99,108.27 329.05,103.51 329.11,110.94 329.17,110.18 329.23,108.90 329.29,105.67 329.35,111.14 329.41,114.52 329.47,103.61 329.52,112.51 329.58,105.58 329.64,105.30 329.70,103.63 329.76,104.21 329.82,112.33 329.88,105.18 329.94,110.08 329.99,105.74 330.05,111.00 330.11,110.29 330.17,101.99 330.23,106.43 330.29,107.96 330.35,106.84 330.41,109.12 330.47,110.81 330.52,110.18 330.58,107.26 330.64,110.38 330.70,110.37 330.76,107.12 330.82,112.33 330.88,114.10 330.94,114.41 330.99,105.70 331.05,110.01 331.11,109.67 331.17,109.54 331.23,105.67 331.29,107.57 331.35,108.78 331.41,114.84 331.47,108.93 331.52,108.45 331.58,108.98 331.64,109.30 331.70,110.34 331.76,106.00 331.82,110.67 331.88,110.44 331.94,113.54 331.99,108.78 332.05,113.38 332.11,111.25 332.17,107.44 332.23,108.29 332.29,107.03 332.35,104.55 332.41,109.87 332.47,109.59 332.52,105.09 332.58,111.83 332.64,112.63 332.70,108.99 332.76,109.62 332.82,114.03 332.88,106.12 332.94,109.96 333.00,113.27 333.05,110.73 333.11,106.42 333.17,109.94 333.23,110.15 333.29,107.81 333.35,111.29 333.41,110.00 333.47,102.38 333.52,108.78 333.58,106.32 333.64,104.01 333.70,109.51 333.76,112.92 333.82,109.44 333.88,104.71 333.94,109.37 334.00,106.87 334.05,110.28 334.11,104.92 334.17,109.58 334.23,111.27 334.29,107.60 334.35,111.55 334.41,110.57 334.47,110.23 334.52,105.76 334.58,109.60 334.64,108.25 334.70,109.74 334.76,105.15 334.82,113.40 334.88,106.15 334.94,114.15 335.00,108.61 335.05,117.73 335.11,112.09 335.17,103.97 335.23,105.67 335.29,109.53 335.35,108.45 335.41,109.45 335.47,115.92 335.52,113.49 335.58,107.48 335.64,108.14 335.70,109.70 335.76,107.89 335.82,108.48 335.88,114.10 335.94,112.22 336.00,112.40 336.05,105.13 336.11,109.34 336.17,107.41 336.23,109.20 336.29,106.35 336.35,109.72 336.41,108.59 336.47,109.49 336.52,108.63 336.58,104.63 336.64,109.66 336.70,107.68 336.76,109.89 336.82,108.75 336.88,110.32 336.94,103.69 337.00,108.20 337.05,111.11 337.11,107.66 337.17,104.31 337.23,108.96 337.29,109.95 337.35,105.64 337.41,108.90 337.47,111.50 337.53,104.12 337.58,104.17 337.64,106.44 337.70,108.61 337.76,104.20 337.82,111.83 337.88,115.60 337.94,110.95 338.00,111.78 338.05,111.42 338.11,111.09 338.17,108.83 338.23,107.31 338.29,101.37 338.35,107.02 338.41,112.33 338.47,109.62 338.53,105.07 338.58,113.73 338.64,103.34 338.70,105.92 338.76,112.67 338.82,113.11 338.88,112.03 338.94,108.99 339.00,108.55 339.05,107.73 339.11,112.89 339.17,102.32 339.23,110.44 339.29,115.52 339.35,109.57 339.41,100.81 339.47,112.17 339.53,105.29 339.58,104.54 339.64,111.62 339.70,110.16 339.76,111.57 339.82,108.47 339.88,107.10 339.94,106.82 340.00,110.40 340.06,109.61 340.11,110.63 340.17,111.61 340.23,108.57 340.29,114.33 340.35,110.61 340.41,112.23 340.47,106.50 340.53,108.14 340.58,108.33 340.64,108.79 340.70,107.60 340.76,105.30 340.82,107.38 340.88,109.55 340.94,108.48 341.00,106.19 341.06,107.89 341.11,110.47 341.17,109.13 341.23,106.37 341.29,110.49 341.35,109.98 341.41,114.88 341.47,112.96 341.53,113.36 341.58,112.23 341.64,109.26 341.70,114.63 341.76,112.23 341.82,107.41 341.88,111.38 341.94,111.31 342.00,106.93 342.06,108.79 342.11,104.75 342.17,110.18 342.23,110.02 342.29,110.62 342.35,110.29 342.41,109.72 342.47,112.59 342.53,110.23 342.58,111.99 342.64,108.06 342.70,110.39 342.76,105.77 342.82,104.09 342.88,108.41 342.94,108.28 343.00,111.28 343.06,108.00 343.11,110.65 343.17,108.03 343.23,108.38 343.29,110.25 343.35,113.63 343.41,110.64 343.47,109.19 343.53,109.91 343.59,106.67 343.64,110.03 343.70,105.94 343.76,112.93 343.82,106.96 343.88,113.67 343.94,107.94 344.00,107.37 344.06,108.49 344.11,113.42 344.17,108.85 344.23,110.32 344.29,110.15 344.35,114.05 344.41,106.12 344.47,112.08 344.53,110.12 344.59,112.84 344.64,109.05 344.70,110.01 344.76,108.17 344.82,107.89 344.88,109.56 344.94,116.88 345.00,112.24 345.06,113.17 345.11,109.98 345.17,114.21 345.23,109.59 345.29,112.77 345.35,107.85 345.41,111.23 345.47,114.65 345.53,110.86 345.59,109.06 345.64,108.95 345.70,111.35 345.76,107.97 345.82,112.89 345.88,104.71 345.94,108.99 346.00,108.55 346.06,111.66 346.11,109.94 346.17,111.94 346.23,108.41 346.29,111.33 346.35,105.34 346.41,106.77 346.47,111.07 346.53,106.40 346.59,103.74 346.64,109.19 346.70,112.48 346.76,108.85 346.82,107.55 346.88,112.40 346.94,108.99 347.00,111.77 347.06,107.34 347.12,105.06 347.17,109.85 347.23,105.55 347.29,108.19 347.35,108.34 347.41,112.72 347.47,109.14 347.53,113.66 347.59,108.42 347.64,106.94 347.70,105.43 347.76,111.15 347.82,111.90 347.88,110.02 347.94,111.36 348.00,111.47 348.06,108.33 348.12,113.25 348.17,110.37 348.23,109.75 348.29,108.15 348.35,115.11 348.41,104.21 348.47,106.49 348.53,102.44 348.59,114.36 348.64,111.81 348.70,106.16 348.76,104.91 348.82,108.68 348.88,110.04 348.94,107.42 349.00,109.83 349.06,113.67 349.12,109.76 349.17,114.26 349.23,109.67 349.29,114.17 349.35,109.41 349.41,112.75 349.47,112.45 349.53,110.02 349.59,110.14 349.64,110.81 349.70,106.58 349.76,114.85 349.82,107.11 349.88,109.83 349.94,108.13 350.00,110.27 350.06,107.07 350.12,107.70 350.17,104.75 350.23,111.90 350.29,113.99 350.35,104.91 350.41,111.03 350.47,106.55 350.53,111.21 350.59,109.07 350.64,108.16 350.70,112.80 350.76,108.80 350.82,110.67 350.88,112.13 350.94,106.35 351.00,105.65 351.06,112.18 351.12,107.85 351.17,111.51 351.23,104.40 351.29,102.62 351.35,107.38 351.41,114.03 351.47,111.15 351.53,110.28 351.59,109.65 351.65,107.32 351.70,110.25 351.76,112.15 351.82,109.43 351.88,106.32 351.94,108.45 352.00,111.03 352.06,110.04 352.12,108.02 352.17,112.81 352.23,104.98 352.29,112.09 352.35,106.84 352.41,108.89 352.47,110.95 352.53,110.61 352.59,109.07 352.65,112.18 352.70,108.16 352.76,111.85 352.82,106.75 352.88,111.32 352.94,113.99 353.00,110.59 353.06,108.29 353.12,110.53 353.17,112.91 353.23,108.31 353.29,114.22 353.35,111.03 353.41,111.36 353.47,109.60 353.53,114.61 353.59,105.90 353.65,111.09 353.70,108.40 353.76,110.86 353.82,108.34 353.88,116.72 353.94,113.18 354.00,111.72 354.06,113.13 354.12,109.77 354.18,107.85 354.23,114.11 354.29,111.44 354.35,112.52 354.41,107.00 354.47,110.20 354.53,106.03 354.59,109.12 354.65,105.52 354.70,112.64 354.76,111.81 354.82,110.86 354.88,116.19 354.94,112.09 355.00,106.73 355.06,116.41 355.12,101.55 355.18,105.09 355.23,107.86 355.29,107.55 355.35,108.60 355.41,109.27 355.47,107.50 355.53,105.24 355.59,108.82 355.65,108.11 355.70,106.14 355.76,111.66 355.82,108.98 355.88,114.22 355.94,104.19 356.00,112.51 356.06,111.27 356.12,110.52 356.18,107.94 356.23,110.40 356.29,108.01 356.35,110.63 356.41,103.13 356.47,113.76 356.53,107.94 356.59,107.17 356.65,115.42 356.70,109.34 356.76,107.10 356.82,109.57 356.88,112.95 356.94,108.25 357.00,112.06 357.06,108.81 357.12,114.51 357.18,110.81 357.23,111.87 357.29,110.52 357.35,109.17 357.41,107.33 357.47,114.70 357.53,108.04 357.59,103.90 357.65,111.13 357.71,103.51 357.76,112.33 357.82,114.12 357.88,113.35 357.94,109.98 358.00,115.68 358.06,109.99 358.12,108.22 358.18,108.03 358.23,104.17 358.29,115.03 358.35,110.61 358.41,109.91 358.47,105.78 358.53,109.55 358.59,109.41 358.65,106.17 358.71,111.83 358.76,112.34 358.82,111.69 358.88,110.27 358.94,110.11 359.00,105.31 359.06,112.24 359.12,109.84 359.18,106.24 359.23,113.70 359.29,105.29 359.35,105.59 359.41,115.51 359.47,109.60 359.53,108.96 359.59,110.61 359.65,105.87 359.71,112.55 359.76,102.33 359.82,114.29 359.88,111.98 359.94,112.58 360.00,108.38 360.06,111.79 360.12,111.02 360.18,113.20 360.23,113.09 360.29,112.94 360.35,110.66 360.41,110.41 360.47,109.18 360.53,111.06 360.59,102.85 360.65,111.62 360.71,111.30 360.76,107.38 360.82,114.82 360.88,109.93 360.94,106.28 361.00,113.32 361.06,108.67 361.12,111.09 361.18,108.66 361.24,103.04 361.29,112.28 361.35,105.97 361.41,107.76 361.47,115.99 361.53,109.20 361.59,111.41 361.65,106.98 361.71,110.53 361.76,110.54 361.82,114.77 361.88,113.00 361.94,108.33 362.00,110.49 362.06,112.70 362.12,107.92 362.18,112.20 362.24,114.98 362.29,109.56 362.35,114.80 362.41,113.87 362.47,110.38 362.53,112.04 362.59,111.79 362.65,110.93 362.71,105.53 362.76,106.38 362.82,108.08 362.88,113.66 362.94,110.90 363.00,104.41" fill="none" stroke="#000" stroke-width="0.55" stroke-linejoin="round"/>
<polyline points="221.80,41.66 221.86,40.62 221.92,37.46 221.98,42.26 222.04,40.92 222.09,37.93 222.15,30.84 222.21,36.01 222.27,28.52 222.33,29.72 222.39,32.07 222.45,31.57 222.51,29.83 222.56,25.90 222.62,28.31 222.68,23.77 222.74,23.45 222.80,25.16 222.86,20.91 222.92,19.57 222.98,17.62 223.04,20.07 223.09,17.86 223.15,10.75 223.21,15.44 223.27,17.40 223.33,11.92 223.39,18.31 223.45,20.76 223.51,17.13 223.56,18.78 223.62,15.89 223.68,14.60 223.74,21.35 223.80,13.59 223.86,22.21 223.92,12.72 223.98,19.47 224.04,15.39 224.09,22.03 224.15,19.75 224.21,23.86 224.27,20.95 224.33,15.09 224.39,22.61 224.45,14.32 224.51,22.68 224.57,19.91 224.62,16.83 224.68,22.44 224.74,21.97 224.80,21.58 224.86,19.51 224.92,24.64 224.98,19.26 225.04,26.26 225.09,18.20 225.15,21.96 225.21,26.66 225.27,26.44 225.33,20.69 225.39,26.44 225.45,24.36 225.51,23.99 225.57,23.22 225.62,25.59 225.68,26.33 225.74,30.13 225.80,23.25 225.86,24.64 225.92,23.89 225.98,30.38 226.04,21.98 226.09,26.58 226.15,24.36 226.21,26.61 226.27,33.02 226.33,24.55 226.39,25.69 226.45,18.61 226.51,29.63 226.57,26.70 226.62,29.55 226.68,22.32 226.74,26.44 226.80,30.78 226.86,30.95 226.92,29.95 226.98,28.66 227.04,27.89 227.09,30.81 227.15,28.42 227.21,31.90 227.27,36.99 227.33,31.86 227.39,29.77 227.45,30.20 227.51,25.30 227.57,31.69 227.62,27.10 227.68,33.93 227.74,34.70 227.80,30.60 227.86,32.99 227.92,28.36 227.98,33.98 228.04,25.56 228.10,31.17 228.15,32.78 228.21,36.13 228.27,35.25 228.33,36.34 228.39,30.14 228.45,32.80 228.51,36.76 228.57,26.13 228.62,27.58 228.68,34.05 228.74,33.26 228.80,33.68 228.86,33.44 228.92,38.11 228.98,32.00 229.04,28.67 229.10,28.58 229.15,30.86 229.21,34.04 229.27,33.04 229.33,40.11 229.39,36.62 229.45,34.66 229.51,33.79 229.57,30.78 229.62,38.64 229.68,35.90 229.74,36.51 229.80,31.65 229.86,39.02 229.92,33.89 229.98,32.22 230.04,33.40 230.10,30.13 230.15,35.27 230.21,39.38 230.27,30.97 230.33,38.43 230.39,40.01 230.45,39.83 230.51,41.92 230.57,39.51 230.62,40.95 230.68,37.64 230.74,44.28 230.80,40.17 230.86,36.27 230.92,44.58 230.98,40.88 231.04,36.78 231.10,40.40 231.15,39.60 231.21,36.90 231.27,42.58 231.33,37.67 231.39,48.03 231.45,42.29 231.51,42.39 231.57,45.62 231.63,40.68 231.68,35.38 231.74,42.11 231.80,45.16 231.86,37.39 231.92,42.44 231.98,40.59 232.04,48.03 232.10,38.56 232.15,47.11 232.21,47.59 232.27,39.92 232.33,36.33 232.39,42.56 232.45,40.76 232.51,44.34 232.57,45.00 232.63,42.35 232.68,43.57 232.74,41.75 232.80,43.39 232.86,43.84 232.92,43.59 232.98,45.34 233.04,45.52 233.10,45.69 233.15,39.03 233.21,41.96 233.27,41.65 233.33,41.92 233.39,43.96 233.45,42.99 233.51,46.78 233.57,49.77 233.63,45.54 233.68,50.53 233.74,48.84 233.80,45.57 233.86,45.27 233.92,47.99 233.98,45.78 234.04,50.12 234.10,46.92 234.16,45.79 234.21,49.76 234.27,43.66 234.33,48.22 234.39,49.57 234.45,49.91 234.51,48.16 234.57,46.98 234.63,44.76 234.68,47.96 234.74,46.80 234.80,46.21 234.86,49.96 234.92,47.77 234.98,53.87 235.04,51.87 235.10,48.28 235.16,51.21 235.21,43.57 235.27,51.02 235.33,44.02 235.39,47.62 235.45,49.65 235.51,51.52 235.57,54.17 235.63,46.12 235.68,46.98 235.74,49.94 235.80,51.72 235.86,46.82 235.92,49.96 235.98,50.47 236.04,52.81 236.10,50.64 236.16,50.51 236.21,48.29 236.27,46.89 236.33,51.80 236.39,50.76 236.45,52.94 236.51,51.62 236.57,51.42 236.63,54.08 236.68,49.97 236.74,51.10 236.80,49.08 236.86,50.99 236.92,54.05 236.98,59.39 237.04,55.96 237.10,56.11 237.16,50.81 237.21,54.85 237.27,54.15 237.33,55.55 237.39,54.92 237.45,55.03 237.51,57.09 237.57,54.50 237.63,53.24 237.69,57.38 237.74,51.77 237.80,55.91 237.86,52.09 237.92,59.28 237.98,55.33 238.04,58.77 238.10,56.73 238.16,52.87 238.21,58.86 238.27,53.14 238.33,55.06 238.39,59.73 238.45,53.92 238.51,55.54 238.57,53.76 238.63,50.67 238.69,59.81 238.74,51.59 238.80,59.47 238.86,55.99 238.92,55.92 238.98,56.45 239.04,56.28 239.10,57.95 239.16,54.07 239.21,55.39 239.27,59.13 239.33,55.64 239.39,54.39 239.45,58.07 239.51,58.96 239.57,55.37 239.63,65.62 239.69,56.11 239.74,58.17 239.80,57.13 239.86,58.08 239.92,52.54 239.98,58.12 240.04,55.20 240.10,56.44 240.16,60.59 240.21,60.00 240.27,54.54 240.33,60.04 240.39,58.54 240.45,56.38 240.51,64.42 240.57,59.54 240.63,63.68 240.69,61.92 240.74,59.36 240.80,54.36 240.86,62.21 240.92,61.86 240.98,61.10 241.04,55.55 241.10,64.32 241.16,57.12 241.22,56.64 241.27,65.18 241.33,61.08 241.39,58.96 241.45,62.09 241.51,57.71 241.57,61.59 241.63,57.05 241.69,59.36 241.74,60.69 241.80,60.10 241.86,65.25 241.92,63.76 241.98,61.61 242.04,65.88 242.10,61.37 242.16,57.33 242.22,59.80 242.27,58.58 242.33,62.06 242.39,60.44 242.45,61.33 242.51,63.60 242.57,60.34 242.63,64.86 242.69,63.38 242.74,63.45 242.80,60.67 242.86,60.88 242.92,63.34 242.98,59.34 243.04,64.77 243.10,64.91 243.16,63.79 243.22,65.97 243.27,68.19 243.33,62.36 243.39,65.89 243.45,66.30 243.51,63.69 243.57,62.35 243.63,62.05 243.69,64.07 243.74,63.55 243.80,65.57 243.86,66.15 243.92,60.96 243.98,65.74 244.04,67.60 244.10,60.02 244.16,65.61 244.22,65.30 244.27,60.32 244.33,64.98 244.39,65.99 244.45,67.02 244.51,65.04 244.57,64.00 244.63,69.18 244.69,65.04 244.75,64.52 244.80,70.42 244.86,69.19 244.92,66.31 244.98,66.13 245.04,72.80 245.10,64.29 245.16,62.97 245.22,67.77 245.27,67.73 245.33,68.48 245.39,64.33 245.45,65.27 245.51,66.75 245.57,68.17 245.63,66.69 245.69,70.34 245.75,63.10 245.80,73.31 245.86,66.87 245.92,69.86 245.98,66.34 246.04,67.51 246.10,64.13 246.16,67.29 246.22,66.69 246.27,68.82 246.33,65.04 246.39,67.52 246.45,67.78 246.51,71.26 246.57,65.62 246.63,60.77 246.69,65.94 246.75,69.64 246.80,69.54 246.86,62.97 246.92,71.81 246.98,70.76 247.04,69.87 247.10,72.35 247.16,71.17 247.22,70.82 247.27,68.47 247.33,70.15 247.39,65.61 247.45,69.56 247.51,70.31 247.57,69.02 247.63,68.08 247.69,71.86 247.75,68.55 247.80,68.69 247.86,70.53 247.92,70.81 247.98,66.74 248.04,68.90 248.10,72.09 248.16,67.86 248.22,67.39 248.28,68.56 248.33,68.19 248.39,76.57 248.45,68.94 248.51,70.00 248.57,76.58 248.63,65.64 248.69,65.49 248.75,68.87 248.80,74.27 248.86,66.65 248.92,74.18 248.98,68.45 249.04,72.33 249.10,64.40 249.16,73.63 249.22,73.64 249.28,71.65 249.33,78.62 249.39,70.33 249.45,73.92 249.51,74.75 249.57,72.26 249.63,72.01 249.69,66.99 249.75,72.56 249.80,72.33 249.86,68.98 249.92,73.44 249.98,70.97 250.04,75.61 250.10,72.11 250.16,72.90 250.22,69.23 250.28,70.53 250.33,68.97 250.39,68.59 250.45,69.51 250.51,76.50 250.57,70.46 250.63,73.07 250.69,70.95 250.75,71.41 250.80,74.96 250.86,75.52 250.92,72.12 250.98,72.23 251.04,72.56 251.10,72.18 251.16,70.38 251.22,74.76 251.28,79.35 251.33,72.79 251.39,76.29 251.45,66.25 251.51,75.08 251.57,75.23 251.63,76.16 251.69,73.82 251.75,75.66 251.81,74.52 251.86,67.41 251.92,74.58 251.98,71.51 252.04,75.90 252.10,77.77 252.16,71.59 252.22,76.77 252.28,77.02 252.33,72.61 252.39,77.04 252.45,69.26 252.51,81.80 252.57,72.64 252.63,75.36 252.69,78.55 252.75,71.66 252.81,73.17 252.86,74.88 252.92,75.92 252.98,69.68 253.04,71.42 253.10,75.08 253.16,76.82 253.22,72.96 253.28,69.17 253.33,76.78 253.39,75.07 253.45,78.20 253.51,77.68 253.57,76.21 253.63,73.99 253.69,73.36 253.75,80.27 253.81,75.88 253.86,79.28 253.92,79.42 253.98,74.12 254.04,80.19 254.10,73.59 254.16,74.22 254.22,80.55 254.28,76.30 254.33,79.73 254.39,74.58 254.45,81.11 254.51,80.12 254.57,78.01 254.63,77.80 254.69,72.47 254.75,77.37 254.81,75.83 254.86,82.58 254.92,77.77 254.98,82.47 255.04,76.83 255.10,76.82 255.16,77.24 255.22,77.18 255.28,74.67 255.34,75.29 255.39,76.69 255.45,74.36 255.51,78.18 255.57,76.99 255.63,79.42 255.69,77.86 255.75,77.40 255.81,77.32 255.86,77.58 255.92,79.58 255.98,78.17 256.04,74.75 256.10,73.75 256.16,72.44 256.22,76.09 256.28,73.69 256.34,75.79 256.39,79.04 256.45,83.76 256.51,78.60 256.57,83.46 256.63,77.38 256.69,79.16 256.75,76.93 256.81,76.88 256.86,82.02 256.92,75.02 256.98,81.15 257.04,83.95 257.10,84.65 257.16,80.25 257.22,79.34 257.28,81.86 257.34,75.25 257.39,77.28 257.45,80.01 257.51,79.08 257.57,77.75 257.63,81.30 257.69,78.19 257.75,77.45 257.81,82.57 257.86,81.66 257.92,82.25 257.98,74.76 258.04,76.81 258.10,77.48 258.16,80.31 258.22,80.29 258.28,81.53 258.34,80.24 258.39,83.04 258.45,74.55 258.51,81.12 258.57,76.67 258.63,79.39 258.69,79.47 258.75,78.88 258.81,83.16 258.87,84.49 258.92,78.41 258.98,78.23 259.04,77.79 259.10,81.15 259.16,80.74 259.22,80.90 259.28,83.11 259.34,76.00 259.39,80.75 259.45,75.69 259.51,80.58 259.57,79.05 259.63,83.71 259.69,78.12 259.75,82.18 259.81,81.27 259.87,83.02 259.92,82.40 259.98,81.72 260.04,79.26 260.10,81.87 260.16,81.00 260.22,79.30 260.28,80.16 260.34,85.71 260.39,87.09 260.45,83.46 260.51,86.34 260.57,80.92 260.63,82.66 260.69,82.87 260.75,80.79 260.81,77.28 260.87,80.26 260.92,79.31 260.98,84.01 261.04,77.63 261.10,84.18 261.16,77.34 261.22,79.85 261.28,80.69 261.34,82.44 261.39,84.43 261.45,79.84 261.51,80.31 261.57,84.39 261.63,82.89 261.69,80.49 261.75,79.20 261.81,79.93 261.87,79.09 261.92,83.88 261.98,82.70 262.04,74.39 262.10,85.80 262.16,84.99 262.22,85.61 262.28,85.43 262.34,77.96 262.39,78.33 262.45,84.17 262.51,76.57 262.57,83.66 262.63,78.77 262.69,88.66 262.75,82.07 262.81,82.27 262.87,85.76 262.92,78.85 262.98,81.46 263.04,83.63 263.10,86.20 263.16,83.95 263.22,81.41 263.28,86.46 263.34,84.55 263.40,79.42 263.45,84.24 263.51,80.65 263.57,85.42 263.63,80.85 263.69,81.83 263.75,84.66 263.81,84.68 263.87,81.78 263.92,81.73 263.98,88.07 264.04,83.04 264.10,82.44 264.16,79.82 264.22,82.09 264.28,88.74 264.34,88.73 264.40,87.89 264.45,87.19 264.51,83.41 264.57,90.90 264.63,82.59 264.69,85.14 264.75,84.39 264.81,82.96 264.87,88.18 264.92,86.99 264.98,80.08 265.04,81.03 265.10,85.39 265.16,85.56 265.22,79.46 265.28,78.62 265.34,82.07 265.40,84.40 265.45,83.27 265.51,82.72 265.57,80.94 265.63,78.77 265.69,89.96 265.75,80.79 265.81,81.65 265.87,82.37 265.93,85.65 265.98,81.88 266.04,88.51 266.10,81.87 266.16,80.69 266.22,81.36 266.28,85.34 266.34,83.95 266.40,81.74 266.45,82.63 266.51,79.94 266.57,85.64 266.63,81.66 266.69,86.07 266.75,86.36 266.81,82.70 266.87,77.17 266.93,82.17 266.98,83.87 267.04,83.96 267.10,81.80 267.16,89.69 267.22,87.96 267.28,87.58 267.34,87.16 267.40,88.81 267.45,82.55 267.51,88.74 267.57,82.38 267.63,84.14 267.69,84.62 267.75,83.89 267.81,85.63 267.87,85.88 267.93,86.57 267.98,84.06 268.04,87.88 268.10,83.59 268.16,84.72 268.22,84.44 268.28,81.50 268.34,89.32 268.40,87.23 268.45,87.24 268.51,88.62 268.57,88.76 268.63,80.20 268.69,89.22 268.75,84.84 268.81,84.78 268.87,86.34 268.93,90.47 268.98,91.55 269.04,91.10 269.10,86.53 269.16,85.77 269.22,86.01 269.28,90.99 269.34,84.97 269.40,86.13 269.45,83.17 269.51,79.82 269.57,86.18 269.63,86.31 269.69,90.61 269.75,86.94 269.81,84.73 269.87,89.41 269.93,85.52 269.98,84.01 270.04,82.55 270.10,89.79 270.16,83.92 270.22,84.60 270.28,82.86 270.34,91.50 270.40,84.54 270.46,94.04 270.51,85.23 270.57,84.87 270.63,92.27 270.69,84.87 270.75,81.44 270.81,83.78 270.87,82.00 270.93,87.82 270.98,89.27 271.04,83.63 271.10,89.50 271.16,92.38 271.22,89.31 271.28,85.05 271.34,90.28 271.40,84.62 271.46,86.51 271.51,82.34 271.57,88.74 271.63,89.21 271.69,83.89 271.75,85.41 271.81,87.22 271.87,88.22 271.93,91.89 271.98,87.73 272.04,82.03 272.10,90.13 272.16,83.68 272.22,88.24 272.28,89.46 272.34,85.15 272.40,84.74 272.46,88.15 272.51,90.46 272.57,90.90 272.63,88.09 272.69,85.54 272.75,87.16 272.81,96.41 272.87,90.02 272.93,85.76 272.99,88.40 273.04,92.54 273.10,91.02 273.16,87.89 273.22,88.49 273.28,88.77 273.34,82.49 273.40,81.21 273.46,88.92 273.51,85.67 273.57,93.42 273.63,87.93 273.69,83.51 273.75,86.74 273.81,86.54 273.87,96.96 273.93,88.35 273.99,88.13 274.04,93.40 274.10,88.75 274.16,89.33 274.22,83.22 274.28,89.87 274.34,88.58 274.40,87.30 274.46,84.31 274.51,90.45 274.57,88.39 274.63,86.73 274.69,88.61 274.75,88.32 274.81,88.15 274.87,95.04 274.93,89.83 274.99,92.67 275.04,90.64 275.10,94.11 275.16,90.90 275.22,86.17 275.28,90.18 275.34,87.62 275.40,88.93 275.46,87.94 275.51,92.40 275.57,88.51 275.63,90.13 275.69,90.26 275.75,90.54 275.81,86.30 275.87,94.98 275.93,94.71 275.99,87.98 276.04,86.63 276.10,88.91 276.16,83.17 276.22,95.65 276.28,91.03 276.34,89.88 276.40,88.75 276.46,89.64 276.51,90.07 276.57,89.28 276.63,90.94 276.69,90.42 276.75,90.96 276.81,87.82 276.87,91.38 276.93,88.83 276.99,90.39 277.04,86.69 277.10,89.05 277.16,85.90 277.22,90.83 277.28,89.72 277.34,89.10 277.40,89.27 277.46,90.44 277.52,92.65 277.57,88.99 277.63,92.31 277.69,91.12 277.75,91.70 277.81,88.41 277.87,86.91 277.93,93.12 277.99,86.34 278.04,92.98 278.10,92.03 278.16,87.72 278.22,86.15 278.28,95.18 278.34,92.99 278.40,86.21 278.46,89.20 278.52,91.82 278.57,90.37 278.63,89.82 278.69,91.14 278.75,89.27 278.81,93.79 278.87,86.78 278.93,89.53 278.99,93.09 279.04,91.39 279.10,86.57 279.16,89.73 279.22,88.71 279.28,85.21 279.34,92.33 279.40,90.03 279.46,93.23 279.52,87.79 279.57,92.02 279.63,84.67 279.69,90.60 279.75,90.33 279.81,82.68 279.87,92.36 279.93,92.46 279.99,93.55 280.05,96.79 280.10,90.29 280.16,88.44 280.22,89.24 280.28,87.19 280.34,91.92 280.40,95.29 280.46,94.17 280.52,92.59 280.57,90.99 280.63,89.00 280.69,89.44 280.75,84.11 280.81,88.89 280.87,87.43 280.93,92.79 280.99,89.10 281.05,93.38 281.10,93.92 281.16,90.21 281.22,88.99 281.28,91.71 281.34,89.83 281.40,90.13 281.46,93.77 281.52,92.81 281.57,86.89 281.63,92.09 281.69,87.18 281.75,88.27 281.81,89.96 281.87,91.39 281.93,87.93 281.99,93.50 282.05,92.21 282.10,87.68 282.16,88.99 282.22,89.46 282.28,91.47 282.34,93.06 282.40,93.57 282.46,86.54 282.52,92.55 282.57,95.56 282.63,92.46 282.69,88.38 282.75,86.80 282.81,92.54 282.87,90.70 282.93,91.25 282.99,92.06 283.05,92.39 283.10,91.29 283.16,91.49 283.22,83.69 283.28,88.43 283.34,92.40 283.40,88.96 283.46,88.12 283.52,90.80 283.57,88.36 283.63,89.32 283.69,92.55 283.75,88.12 283.81,92.27 283.87,93.62 283.93,90.22 283.99,93.57 284.05,94.40 284.10,93.24 284.16,85.66 284.22,92.28 284.28,88.27 284.34,95.79 284.40,81.35 284.46,87.96 284.52,90.31 284.58,89.02 284.63,87.29 284.69,89.91 284.75,93.79 284.81,88.50 284.87,86.20 284.93,94.81 284.99,87.79 285.05,94.23 285.10,86.35 285.16,92.81 285.22,96.99 285.28,90.23 285.34,95.14 285.40,95.44 285.46,93.98 285.52,93.02 285.58,88.27 285.63,92.41 285.69,89.03 285.75,86.16 285.81,91.19 285.87,87.43 285.93,90.23 285.99,94.26 286.05,93.91 286.10,90.87 286.16,88.15 286.22,91.42 286.28,82.13 286.34,89.21 286.40,93.11 286.46,91.98 286.52,93.34 286.58,86.58 286.63,87.95 286.69,92.37 286.75,92.29 286.81,91.39 286.87,93.09 286.93,97.09 286.99,89.68 287.05,89.30 287.11,97.78 287.16,85.67 287.22,88.31 287.28,92.08 287.34,97.25 287.40,89.64 287.46,93.10 287.52,86.24 287.58,85.05 287.63,92.28 287.69,91.76 287.75,90.02 287.81,87.07 287.87,92.27 287.93,91.04 287.99,94.59 288.05,90.91 288.11,89.45 288.16,91.38 288.22,96.15 288.28,90.99 288.34,93.15 288.40,92.37 288.46,90.96 288.52,94.86 288.58,94.26 288.63,93.13 288.69,87.19 288.75,92.96 288.81,89.59 288.87,87.17 288.93,94.27 288.99,90.34 289.05,90.97 289.11,91.84 289.16,95.58 289.22,91.00 289.28,90.92 289.34,93.53 289.40,88.89 289.46,91.88 289.52,89.35 289.58,90.26 289.63,91.60 289.69,95.06 289.75,90.73 289.81,95.47 289.87,90.39 289.93,92.29 289.99,91.84 290.05,95.86 290.11,92.04 290.16,96.86 290.22,96.93 290.28,94.25 290.34,96.98 290.40,91.30 290.46,89.08 290.52,92.03 290.58,94.27 290.63,91.47 290.69,97.55 290.75,92.30 290.81,93.57 290.87,93.79 290.93,91.86 290.99,95.23 291.05,91.63 291.11,94.83 291.16,92.37 291.22,88.80 291.28,92.78 291.34,95.40 291.40,92.68 291.46,95.30 291.52,94.97 291.58,96.84 291.64,94.51 291.69,92.92 291.75,91.95 291.81,92.86 291.87,92.71 291.93,95.84 291.99,97.01 292.05,92.60 292.11,90.79 292.16,97.24 292.22,89.89 292.28,94.39 292.34,93.10 292.40,91.51 292.46,92.80 292.52,97.12 292.58,90.96 292.64,95.63 292.69,91.45 292.75,92.52 292.81,91.96 292.87,93.29 292.93,90.00 292.99,95.63 293.05,91.32 293.11,95.51 293.16,90.50 293.22,88.51 293.28,95.28 293.34,90.58 293.40,93.77 293.46,95.03 293.52,91.97 293.58,95.43 293.64,94.72 293.69,91.92 293.75,91.80 293.81,92.13 293.87,93.68 293.93,98.13 293.99,97.29 294.05,97.02 294.11,95.93 294.17,91.61 294.22,92.99 294.28,97.00 294.34,88.65 294.40,92.11 294.46,93.42 294.52,98.32 294.58,94.70 294.64,95.03 294.69,97.17 294.75,95.92 294.81,95.75 294.87,92.59 294.93,94.62 294.99,90.98 295.05,89.74 295.11,93.54 295.17,89.77 295.22,95.42 295.28,99.29 295.34,90.11 295.40,94.87 295.46,92.50 295.52,92.88 295.58,86.36 295.64,94.26 295.69,91.82 295.75,93.54 295.81,96.67 295.87,94.30 295.93,92.72 295.99,90.59 296.05,91.97 296.11,90.90 296.17,95.07 296.22,92.76 296.28,91.18 296.34,94.07 296.40,92.23 296.46,99.92 296.52,98.89 296.58,97.61 296.64,94.09 296.69,91.94 296.75,92.62 296.81,96.90 296.87,92.27 296.93,90.40 296.99,95.60 297.05,92.39 297.11,97.44 297.17,91.13 297.22,90.70 297.28,91.12 297.34,95.18 297.40,96.63 297.46,98.21 297.52,93.80 297.58,91.67 297.64,90.16 297.69,94.40 297.75,96.50 297.81,92.86 297.87,92.92 297.93,88.51 297.99,89.53 298.05,93.96 298.11,98.53 298.17,98.29 298.22,92.54 298.28,97.54 298.34,94.18 298.40,94.11 298.46,94.18 298.52,97.84 298.58,94.53 298.64,93.17 298.70,97.07 298.75,96.58 298.81,99.09 298.87,96.37 298.93,91.34 298.99,91.73 299.05,96.04 299.11,93.47 299.17,93.89 299.22,92.99 299.28,89.07 299.34,99.07 299.40,93.06 299.46,95.18 299.52,96.10 299.58,94.54 299.64,98.10 299.70,95.57 299.75,93.01 299.81,92.94 299.87,96.69 299.93,92.18 299.99,94.60 300.05,93.24 300.11,88.27 300.17,94.41 300.22,96.38 300.28,92.94 300.34,92.50 300.40,95.82 300.46,96.98 300.52,96.51 300.58,95.50 300.64,93.49 300.70,95.55 300.75,90.51 300.81,92.18 300.87,98.06 300.93,93.96 300.99,86.03 301.05,95.83 301.11,93.17 301.17,93.78 301.23,94.00 301.28,87.14 301.34,95.07 301.40,89.69 301.46,97.80 301.52,91.56 301.58,92.79 301.64,95.99 301.70,98.41 301.75,92.71 301.81,94.13 301.87,92.58 301.93,91.56 301.99,96.82 302.05,90.54 302.11,91.63 302.17,94.48 302.23,93.49 302.28,100.27 302.34,91.40 302.40,92.19 302.46,94.95 302.52,93.64 302.58,93.90 302.64,96.89 302.70,97.83 302.75,96.05 302.81,86.96 302.87,91.36 302.93,89.22 302.99,97.53 303.05,96.37 303.11,94.47 303.17,95.67 303.23,93.93 303.28,92.95 303.34,89.90 303.40,93.38 303.46,93.78 303.52,93.59 303.58,96.71 303.64,93.70 303.70,95.92 303.75,97.50 303.81,96.34 303.87,92.34 303.93,92.83 303.99,93.45 304.05,97.40 304.11,98.50 304.17,92.89 304.23,92.79 304.28,94.15 304.34,97.96 304.40,95.61 304.46,91.12 304.52,94.03 304.58,95.54 304.64,94.79 304.70,95.85 304.75,90.91 304.81,90.68 304.87,92.59 304.93,94.56 304.99,93.51 305.05,95.10 305.11,95.83 305.17,92.46 305.23,87.89 305.28,94.98 305.34,90.54 305.40,95.14 305.46,96.82 305.52,94.79 305.58,96.28 305.64,97.93 305.70,93.03 305.76,97.33 305.81,95.84 305.87,94.27 305.93,95.15 305.99,95.16 306.05,98.18 306.11,93.05 306.17,95.81 306.23,92.00 306.28,98.49 306.34,98.64 306.40,90.10 306.46,98.30 306.52,89.34 306.58,98.67 306.64,95.20 306.70,94.61 306.76,95.08 306.81,95.10 306.87,92.07 306.93,95.65 306.99,98.07 307.05,96.44 307.11,94.94 307.17,94.36 307.23,88.82 307.28,97.22 307.34,92.30 307.40,89.63 307.46,96.42 307.52,91.70 307.58,96.13 307.64,101.11 307.70,94.75 307.76,100.94 307.81,101.32 307.87,97.71 307.93,96.40 307.99,94.44 308.05,91.50 308.11,93.71 308.17,95.72 308.23,95.48 308.28,94.69 308.34,92.89 308.40,93.76 308.46,103.81 308.52,92.59 308.58,97.45 308.64,97.03 308.70,96.92 308.76,97.87 308.81,93.62 308.87,92.98 308.93,97.39 308.99,96.70 309.05,98.54 309.11,94.79 309.17,94.96 309.23,98.40 309.29,91.97 309.34,94.80 309.40,93.48 309.46,91.56 309.52,92.07 309.58,98.34 309.64,93.05 309.70,88.29 309.76,92.94 309.81,93.75 309.87,95.41 309.93,89.96 309.99,95.01 310.05,93.59 310.11,95.59 310.17,97.94 310.23,95.92 310.29,94.27 310.34,92.93 310.40,92.06 310.46,99.96 310.52,97.26 310.58,87.31 310.64,95.57 310.70,95.06 310.76,94.50 310.81,91.25 310.87,94.06 310.93,92.69 310.99,95.87 311.05,94.61 311.11,90.64 311.17,91.95 311.23,95.51 311.29,98.42 311.34,91.72 311.40,96.06 311.46,97.76 311.52,91.22 311.58,98.12 311.64,95.83 311.70,91.23 311.76,95.87 311.81,96.52 311.87,97.44 311.93,96.43 311.99,94.08 312.05,87.46 312.11,94.21 312.17,90.15 312.23,95.38 312.29,94.12 312.34,93.18 312.40,93.49 312.46,94.91 312.52,96.46 312.58,97.02 312.64,94.86 312.70,94.36 312.76,95.97 312.82,91.57 312.87,96.25 312.93,96.40 312.99,94.74 313.05,92.75 313.11,94.79 313.17,91.85 313.23,96.37 313.29,92.50 313.34,97.05 313.40,99.87 313.46,92.39 313.52,94.85 313.58,95.49 313.64,92.04 313.70,99.36 313.76,99.23 313.82,92.26 313.87,97.01 313.93,89.39 313.99,92.28 314.05,90.02 314.11,93.14 314.17,94.74 314.23,93.86 314.29,96.03 314.34,96.94 314.40,100.17 314.46,96.44 314.52,95.52 314.58,99.57 314.64,94.65 314.70,99.64 314.76,92.12 314.82,100.81 314.87,96.60 314.93,93.70 314.99,104.15 315.05,95.13 315.11,94.63 315.17,97.82 315.23,92.47 315.29,97.84 315.35,98.99 315.40,96.89 315.46,95.79 315.52,92.78 315.58,92.24 315.64,93.12 315.70,96.14 315.76,98.76 315.82,97.92 315.87,92.62 315.93,93.18 315.99,94.78 316.05,94.36 316.11,96.80 316.17,89.04 316.23,89.96 316.29,98.45 316.35,94.97 316.40,96.29 316.46,94.06 316.52,98.86 316.58,96.64 316.64,93.57 316.70,95.02 316.76,96.44 316.82,97.30 316.87,96.64 316.93,97.11 316.99,91.94 317.05,95.30 317.11,94.94 317.17,99.80 317.23,100.94 317.29,95.04 317.35,93.41 317.40,94.06 317.46,97.81 317.52,96.53 317.58,98.11 317.64,95.05 317.70,92.61 317.76,96.25 317.82,98.34 317.87,95.23 317.93,95.03 317.99,96.35 318.05,104.22 318.11,98.95 318.17,94.98 318.23,95.67 318.29,96.83 318.35,89.91 318.40,92.72 318.46,97.03 318.52,94.87 318.58,96.86 318.64,96.35 318.70,89.52 318.76,91.80 318.82,95.18 318.88,94.12 318.93,95.78 318.99,97.91 319.05,95.38 319.11,94.50 319.17,90.87 319.23,93.06 319.29,99.12 319.35,99.15 319.40,98.30 319.46,94.04 319.52,94.83 319.58,99.08 319.64,93.00 319.70,98.07 319.76,96.51 319.82,96.80 319.88,92.16 319.93,98.16 319.99,97.60 320.05,92.99 320.11,96.72 320.17,96.20 320.23,96.14 320.29,89.67 320.35,102.69 320.40,90.66 320.46,91.78 320.52,96.41 320.58,97.08 320.64,98.63 320.70,93.40 320.76,96.74 320.82,93.93 320.88,91.61 320.93,95.55 320.99,95.91 321.05,96.65 321.11,92.54 321.17,96.86 321.23,97.02 321.29,96.20 321.35,98.60 321.40,94.79 321.46,95.98 321.52,95.11 321.58,94.94 321.64,96.49 321.70,91.98 321.76,100.98 321.82,92.47 321.88,97.01 321.93,95.89 321.99,97.13 322.05,98.74 322.11,99.72 322.17,94.86 322.23,100.10 322.29,95.82 322.35,99.10 322.40,99.83 322.46,98.46 322.52,93.26 322.58,98.19 322.64,97.57 322.70,99.35 322.76,97.25 322.82,100.90 322.88,95.82 322.93,96.11 322.99,93.84 323.05,89.57 323.11,94.10 323.17,91.96 323.23,97.10 323.29,100.97 323.35,94.89 323.41,92.74 323.46,93.84 323.52,98.58 323.58,99.28 323.64,97.32 323.70,97.08 323.76,93.40 323.82,94.91 323.88,92.54 323.93,94.18 323.99,97.90 324.05,95.00 324.11,93.16 324.17,99.14 324.23,101.17 324.29,96.88 324.35,98.61 324.41,96.94 324.46,91.23 324.52,93.28 324.58,99.28 324.64,97.84 324.70,96.81 324.76,95.90 324.82,99.13 324.88,90.91 324.93,95.97 324.99,98.95 325.05,98.24 325.11,91.23 325.17,99.37 325.23,99.60 325.29,89.14 325.35,93.24 325.41,94.10 325.46,91.69 325.52,98.85 325.58,90.81 325.64,101.16 325.70,94.51 325.76,91.44 325.82,99.65 325.88,96.02 325.94,95.30 325.99,101.87 326.05,98.40 326.11,95.23 326.17,92.28 326.23,94.55 326.29,96.22 326.35,93.12 326.41,100.19 326.46,97.51 326.52,90.60 326.58,94.93 326.64,95.75 326.70,91.22 326.76,96.78 326.82,98.28 326.88,97.29 326.94,95.93 326.99,95.70 327.05,95.22 327.11,103.33 327.17,97.03 327.23,97.87 327.29,94.73 327.35,97.82 327.41,93.83 327.46,98.30 327.52,97.89 327.58,90.83 327.64,92.80 327.70,95.43 327.76,96.23 327.82,92.06 327.88,96.13 327.94,91.88 327.99,93.75 328.05,94.56 328.11,96.21 328.17,97.84 328.23,91.94 328.29,95.90 328.35,99.42 328.41,96.21 328.46,91.62 328.52,98.02 328.58,91.46 328.64,93.15 328.70,96.57 328.76,100.57 328.82,94.55 328.88,97.05 328.94,98.44 328.99,92.68 329.05,93.11 329.11,97.90 329.17,98.88 329.23,90.47 329.29,94.26 329.35,93.03 329.41,95.31 329.47,97.47 329.52,98.67 329.58,96.24 329.64,101.14 329.70,95.92 329.76,92.62 329.82,99.23 329.88,95.02 329.94,95.99 329.99,91.86 330.05,95.88 330.11,96.38 330.17,92.64 330.23,97.05 330.29,95.82 330.35,97.54 330.41,100.26 330.47,97.68 330.52,99.12 330.58,91.23 330.64,101.45 330.70,97.78 330.76,94.37 330.82,94.36 330.88,97.23 330.94,97.61 330.99,97.49 331.05,101.14 331.11,99.58 331.17,95.27 331.23,93.02 331.29,93.68 331.35,92.35 331.41,97.08 331.47,101.45 331.52,98.73 331.58,97.33 331.64,94.68 331.70,92.01 331.76,95.39 331.82,95.20 331.88,94.29 331.94,97.85 331.99,93.13 332.05,97.69 332.11,96.98 332.17,92.04 332.23,100.98 332.29,102.41 332.35,95.44 332.41,98.06 332.47,102.01 332.52,95.53 332.58,96.01 332.64,98.36 332.70,98.72 332.76,97.98 332.82,92.44 332.88,97.33 332.94,97.36 333.00,99.11 333.05,87.54 333.11,100.65 333.17,90.93 333.23,97.23 333.29,93.08 333.35,96.82 333.41,102.56 333.47,94.54 333.52,99.35 333.58,95.96 333.64,98.38 333.70,96.59 333.76,97.14 333.82,95.99 333.88,98.74 333.94,95.44 334.00,99.03 334.05,98.60 334.11,92.01 334.17,92.17 334.23,96.88 334.29,98.66 334.35,99.37 334.41,97.65 334.47,92.59 334.52,93.32 334.58,95.29 334.64,96.15 334.70,93.42 334.76,94.17 334.82,96.57 334.88,95.14 334.94,100.30 335.00,95.46 335.05,96.92 335.11,96.70 335.17,97.59 335.23,93.14 335.29,97.57 335.35,101.49 335.41,97.21 335.47,96.72 335.52,97.15 335.58,100.07 335.64,98.31 335.70,96.65 335.76,96.39 335.82,100.83 335.88,98.36 335.94,98.14 336.00,100.35 336.05,101.31 336.11,102.00 336.17,91.29 336.23,92.31 336.29,92.03 336.35,97.20 336.41,94.04 336.47,96.06 336.52,96.33 336.58,98.89 336.64,94.92 336.70,95.19 336.76,95.09 336.82,99.96 336.88,95.58 336.94,95.66 337.00,97.14 337.05,94.70 337.11,96.49 337.17,90.06 337.23,96.41 337.29,97.64 337.35,94.98 337.41,93.20 337.47,93.04 337.53,92.53 337.58,95.81 337.64,101.09 337.70,96.23 337.76,94.00 337.82,90.98 337.88,99.34 337.94,92.14 338.00,96.34 338.05,94.89 338.11,98.98 338.17,100.58 338.23,100.87 338.29,101.22 338.35,96.43 338.41,96.40 338.47,98.48 338.53,101.33 338.58,94.04 338.64,97.35 338.70,97.39 338.76,100.68 338.82,94.82 338.88,93.99 338.94,98.08 339.00,92.28 339.05,89.77 339.11,91.04 339.17,93.61 339.23,98.10 339.29,94.94 339.35,98.66 339.41,94.54 339.47,97.81 339.53,94.70 339.58,96.30 339.64,96.44 339.70,100.80 339.76,96.99 339.82,100.48 339.88,92.86 339.94,92.78 340.00,96.08 340.06,96.88 340.11,95.39 340.17,99.00 340.23,100.77 340.29,95.70 340.35,97.02 340.41,95.46 340.47,95.27 340.53,96.26 340.58,98.86 340.64,96.80 340.70,97.43 340.76,99.65 340.82,95.33 340.88,98.32 340.94,97.85 341.00,94.37 341.06,95.48 341.11,97.26 341.17,99.28 341.23,94.28 341.29,96.63 341.35,102.10 341.41,101.55 341.47,93.42 341.53,99.75 341.58,96.43 341.64,95.06 341.70,96.52 341.76,95.84 341.82,96.65 341.88,97.17 341.94,94.40 342.00,94.40 342.06,97.11 342.11,93.62 342.17,96.54 342.23,95.14 342.29,92.04 342.35,97.68 342.41,94.70 342.47,96.85 342.53,97.28 342.58,94.38 342.64,99.88 342.70,98.33 342.76,96.35 342.82,101.58 342.88,97.36 342.94,99.80 343.00,96.60 343.06,97.81 343.11,98.46 343.17,99.35 343.23,96.36 343.29,94.06 343.35,97.68 343.41,95.55 343.47,99.80 343.53,96.68 343.59,94.50 343.64,99.73 343.70,96.28 343.76,96.84 343.82,93.17 343.88,99.71 343.94,100.99 344.00,98.24 344.06,98.01 344.11,97.07 344.17,97.48 344.23,96.67 344.29,95.03 344.35,98.24 344.41,90.56 344.47,92.94 344.53,103.55 344.59,96.86 344.64,89.47 344.70,87.53 344.76,95.05 344.82,97.50 344.88,99.72 344.94,97.62 345.00,95.23 345.06,94.14 345.11,99.30 345.17,99.38 345.23,100.49 345.29,96.37 345.35,92.29 345.41,97.92 345.47,101.88 345.53,97.46 345.59,92.74 345.64,97.28 345.70,96.70 345.76,93.80 345.82,91.43 345.88,93.50 345.94,98.75 346.00,99.31 346.06,102.64 346.11,96.97 346.17,95.95 346.23,102.28 346.29,93.42 346.35,99.60 346.41,94.56 346.47,98.16 346.53,94.44 346.59,98.50 346.64,98.39 346.70,102.05 346.76,94.89 346.82,95.76 346.88,96.78 346.94,92.24 347.00,100.82 347.06,94.23 347.12,94.11 347.17,99.84 347.23,94.56 347.29,95.46 347.35,101.48 347.41,96.89 347.47,98.47 347.53,90.33 347.59,98.27 347.64,96.31 347.70,94.00 347.76,98.00 347.82,97.06 347.88,98.09 347.94,94.05 348.00,99.95 348.06,100.13 348.12,93.78 348.17,94.91 348.23,96.03 348.29,95.80 348.35,91.50 348.41,97.15 348.47,93.99 348.53,94.46 348.59,98.21 348.64,95.88 348.70,98.29 348.76,100.05 348.82,94.94 348.88,100.15 348.94,96.23 349.00,96.84 349.06,98.66 349.12,98.68 349.17,96.15 349.23,97.16 349.29,101.69 349.35,98.20 349.41,94.79 349.47,95.30 349.53,94.37 349.59,97.73 349.64,97.25 349.70,93.41 349.76,96.17 349.82,96.24 349.88,94.72 349.94,99.95 350.00,98.19 350.06,95.59 350.12,96.17 350.17,98.12 350.23,99.80 350.29,98.24 350.35,98.31 350.41,96.75 350.47,94.67 350.53,97.83 350.59,95.40 350.64,95.17 350.70,96.44 350.76,92.05 350.82,101.17 350.88,97.04 350.94,93.77 351.00,91.91 351.06,97.31 351.12,95.43 351.17,97.75 351.23,97.34 351.29,95.07 351.35,97.30 351.41,94.76 351.47,100.35 351.53,97.39 351.59,94.96 351.65,102.02 351.70,94.75 351.76,99.14 351.82,93.89 351.88,95.87 351.94,96.84 352.00,99.22 352.06,94.42 352.12,95.62 352.17,95.25 352.23,95.46 352.29,94.44 352.35,102.70 352.41,95.62 352.47,92.66 352.53,96.48 352.59,102.94 352.65,98.87 352.70,94.84 352.76,101.02 352.82,97.04 352.88,99.12 352.94,102.83 353.00,98.90 353.06,96.81 353.12,97.50 353.17,98.47 353.23,97.52 353.29,98.91 353.35,94.28 353.41,98.18 353.47,98.06 353.53,96.35 353.59,101.52 353.65,89.49 353.70,94.74 353.76,92.15 353.82,96.49 353.88,99.18 353.94,100.80 354.00,95.49 354.06,96.54 354.12,98.29 354.18,98.21 354.23,98.88 354.29,95.63 354.35,91.96 354.41,99.12 354.47,101.56 354.53,91.78 354.59,99.12 354.65,99.76 354.70,96.38 354.76,94.74 354.82,95.64 354.88,97.56 354.94,93.17 355.00,100.35 355.06,96.89 355.12,99.62 355.18,95.99 355.23,97.51 355.29,95.08 355.35,97.49 355.41,94.11 355.47,97.81 355.53,99.79 355.59,97.81 355.65,101.10 355.70,94.79 355.76,102.26 355.82,93.61 355.88,93.97 355.94,97.84 356.00,97.26 356.06,96.67 356.12,96.36 356.18,97.27 356.23,97.65 356.29,96.56 356.35,93.81 356.41,99.00 356.47,95.16 356.53,99.25 356.59,100.48 356.65,94.45 356.70,95.44 356.76,92.02 356.82,93.36 356.88,91.50 356.94,95.67 357.00,94.89 357.06,101.00 357.12,101.23 357.18,100.46 357.23,92.48 357.29,95.53 357.35,91.36 357.41,97.34 357.47,97.51 357.53,97.33 357.59,103.41 357.65,94.09 357.71,95.02 357.76,97.42 357.82,94.44 357.88,98.10 357.94,92.38 358.00,101.20 358.06,100.41 358.12,97.20 358.18,99.79 358.23,97.04 358.29,92.44 358.35,96.86 358.41,90.49 358.47,102.54 358.53,89.97 358.59,95.19 358.65,93.14 358.71,93.20 358.76,96.56 358.82,93.64 358.88,95.44 358.94,99.34 359.00,95.70 359.06,96.88 359.12,94.90 359.18,91.68 359.23,97.84 359.29,95.82 359.35,95.62 359.41,95.92 359.47,97.55 359.53,99.64 359.59,97.64 359.65,97.97 359.71,98.72 359.76,90.22 359.82,94.16 359.88,96.76 359.94,98.28 360.00,94.89 360.06,97.77 360.12,98.34 360.18,95.32 360.23,98.05 360.29,89.46 360.35,89.75 360.41,94.81 360.47,95.35 360.53,97.26 360.59,94.43 360.65,94.48 360.71,94.30 360.76,95.66 360.82,100.05 360.88,96.42 360.94,99.45 361.00,94.22 361.06,99.29 361.12,94.49 361.18,92.68 361.24,96.05 361.29,98.41 361.35,99.77 361.41,93.03 361.47,92.97 361.53,93.91 361.59,97.31 361.65,100.88 361.71,99.24 361.76,93.35 361.82,92.69 361.88,94.62 361.94,100.46 362.00,94.14 362.06,93.70 362.12,97.23 362.18,94.75 362.24,92.55 362.29,94.46 362.35,94.06 362.41,99.10 362.47,98.61 362.53,101.61 362.59,97.98 362.65,98.85 362.71,96.24 362.76,102.67 362.82,90.51 362.88,102.31 362.94,94.99 363.00,96.66" fill="none" stroke="#f00" stroke-width="0.55" stroke-linejoin="round"/>
<polyline points="223.20,15.20 223.70,17.63 224.20,20.00 224.70,22.30 225.20,24.55 225.70,26.73 226.20,28.86 226.70,30.93 227.20,32.94 227.70,34.91 228.20,36.82 228.70,38.67 229.20,40.49 229.70,42.25 230.20,43.96 230.70,45.63 231.20,47.26 231.70,48.84 232.20,50.38 232.70,51.88 233.20,53.34 233.70,54.77 234.20,56.15 234.70,57.50 235.20,58.81 235.70,60.09 236.20,61.33 236.70,62.54 237.20,63.72 237.70,64.87 238.20,65.99 238.70,67.08 239.20,68.14 239.70,69.17 240.20,70.18 240.70,71.15 241.20,72.11 241.70,73.03 242.20,73.94 242.70,74.82 243.20,75.67 243.70,76.51 244.20,77.32 244.70,78.11 245.20,78.88 245.70,79.63 246.20,80.36 246.70,81.07 247.20,81.76 247.70,82.44 248.20,83.10 248.70,83.74 249.20,84.36 249.70,84.97 250.20,85.56 250.70,86.13 251.20,86.69 251.70,87.24 252.20,87.77 252.70,88.29 253.20,88.79 253.70,89.28 254.20,89.76 254.70,90.23 255.20,90.68 255.70,91.13 256.20,91.56 256.70,91.98 257.20,92.39 257.70,92.78 258.20,93.17 258.70,93.55 259.20,93.92 259.70,94.28 260.20,94.63 260.70,94.97 261.20,95.30 261.70,95.62 262.20,95.94 262.70,96.25 263.20,96.55 263.70,96.84 264.20,97.12 264.70,97.40 265.20,97.67 265.70,97.93 266.20,98.19 266.70,98.44 267.20,98.68 267.70,98.92 268.20,99.15 268.70,99.38 269.20,99.60 269.70,99.81 270.20,100.02 270.70,100.23 271.20,100.43 271.70,100.62 272.20,100.81 272.70,101.00 273.20,101.18 273.70,101.35 274.20,101.52 274.70,101.69 275.20,101.85 275.70,102.01 276.20,102.17 276.70,102.32 277.20,102.47 277.70,102.61 278.20,102.75 278.70,102.89 279.20,103.02 279.70,103.15 280.20,103.28 280.70,103.41 281.20,103.53 281.70,103.65 282.20,103.76 282.70,103.87 283.20,103.99 283.70,104.09 284.20,104.20 284.70,104.30 285.20,104.40 285.70,104.50 286.20,104.60 286.70,104.69 287.20,104.78 287.70,104.87 288.20,104.96 288.70,105.04 289.20,105.13 289.70,105.21 290.20,105.29 290.70,105.37 291.20,105.45 291.70,105.52 292.20,105.59 292.70,105.66 293.20,105.73 293.70,105.80 294.20,105.87 294.70,105.94 295.20,106.00 295.70,106.06 296.20,106.12 296.70,106.19 297.20,106.24 297.70,106.30 298.20,106.36 298.70,106.41 299.20,106.47 299.70,106.52 300.20,106.57 300.70,106.63 301.20,106.68 301.70,106.72 302.20,106.77 302.70,106.82 303.20,106.87 303.70,106.91 304.20,106.96 304.70,107.00 305.20,107.04 305.70,107.09 306.20,107.13 306.70,107.17 307.20,107.21 307.70,107.25 308.20,107.29 308.70,107.32 309.20,107.36 309.70,107.40 310.20,107.43 310.70,107.47 311.20,107.51 311.70,107.54 312.20,107.57 312.70,107.61 313.20,107.64 313.70,107.67 314.20,107.70 314.70,107.73 315.20,107.77 315.70,107.80 316.20,107.83 316.70,107.85 317.20,107.88 317.70,107.91 318.20,107.94 318.70,107.97 319.20,108.00 319.70,108.02 320.20,108.05 320.70,108.08 321.20,108.10 321.70,108.13 322.20,108.15 322.70,108.18 323.20,108.20 323.70,108.23 324.20,108.25 324.70,108.27 325.20,108.30 325.70,108.32 326.20,108.34 326.70,108.37 327.20,108.39 327.70,108.41 328.20,108.43 328.70,108.46 329.20,108.48 329.70,108.50 330.20,108.52 330.70,108.54 331.20,108.56 331.70,108.58 332.20,108.60 332.70,108.62 333.20,108.64 333.70,108.66 334.20,108.68 334.70,108.70 335.20,108.72 335.70,108.74 336.20,108.76 336.70,108.78 337.20,108.80 337.70,108.82 338.20,108.84 338.70,108.85 339.20,108.87 339.70,108.89 340.20,108.91 340.70,108.93 341.20,108.94 341.70,108.96 342.20,108.98 342.70,109.00 343.20,109.01 343.70,109.03 344.20,109.05 344.70,109.07 345.20,109.08 345.70,109.10 346.20,109.12 346.70,109.13 347.20,109.15 347.70,109.17 348.20,109.18 348.70,109.20 349.20,109.21 349.70,109.23 350.20,109.25 350.70,109.26 351.20,109.28 351.70,109.30 352.20,109.31 352.70,109.33 353.20,109.34 353.70,109.36 354.20,109.37 354.70,109.39 355.20,109.40 355.70,109.42 356.20,109.44 356.70,109.45 357.20,109.47 357.70,109.48 358.20,109.50 358.70,109.51 359.20,109.53 359.70,109.54 360.20,109.56 360.70,109.57 361.20,109.59 361.70,109.60 362.20,109.62 362.70,109.63" fill="none" stroke="#1a1f8a" stroke-width="1.1" stroke-linejoin="round"/>
<polyline points="223.20,15.70 223.70,17.47 224.20,19.20 224.70,20.89 225.20,22.55 225.70,24.17 226.20,25.75 226.70,27.30 227.20,28.82 227.70,30.30 228.20,31.75 228.70,33.17 229.20,34.56 229.70,35.92 230.20,37.25 230.70,38.55 231.20,39.82 231.70,41.06 232.20,42.28 232.70,43.47 233.20,44.63 233.70,45.77 234.20,46.88 234.70,47.97 235.20,49.04 235.70,50.08 236.20,51.10 236.70,52.10 237.20,53.08 237.70,54.03 238.20,54.96 238.70,55.88 239.20,56.77 239.70,57.65 240.20,58.50 240.70,59.34 241.20,60.16 241.70,60.96 242.20,61.74 242.70,62.51 243.20,63.26 243.70,63.99 244.20,64.71 244.70,65.41 245.20,66.09 245.70,66.76 246.20,67.42 246.70,68.06 247.20,68.69 247.70,69.31 248.20,69.91 248.70,70.49 249.20,71.07 249.70,71.63 250.20,72.18 250.70,72.72 251.20,73.25 251.70,73.76 252.20,74.27 252.70,74.76 253.20,75.24 253.70,75.71 254.20,76.18 254.70,76.63 255.20,77.07 255.70,77.50 256.20,77.92 256.70,78.34 257.20,78.74 257.70,79.14 258.20,79.52 258.70,79.90 259.20,80.27 259.70,80.64 260.20,80.99 260.70,81.34 261.20,81.68 261.70,82.01 262.20,82.33 262.70,82.65 263.20,82.96 263.70,83.26 264.20,83.56 264.70,83.85 265.20,84.14 265.70,84.41 266.20,84.69 266.70,84.95 267.20,85.21 267.70,85.47 268.20,85.72 268.70,85.96 269.20,86.20 269.70,86.43 270.20,86.66 270.70,86.88 271.20,87.10 271.70,87.31 272.20,87.52 272.70,87.73 273.20,87.93 273.70,88.12 274.20,88.31 274.70,88.50 275.20,88.68 275.70,88.86 276.20,89.04 276.70,89.21 277.20,89.38 277.70,89.54 278.20,89.70 278.70,89.86 279.20,90.01 279.70,90.16 280.20,90.31 280.70,90.45 281.20,90.59 281.70,90.73 282.20,90.86 282.70,91.00 283.20,91.12 283.70,91.25 284.20,91.37 284.70,91.49 285.20,91.61 285.70,91.73 286.20,91.84 286.70,91.95 287.20,92.06 287.70,92.16 288.20,92.27 288.70,92.37 289.20,92.47 289.70,92.56 290.20,92.66 290.70,92.75 291.20,92.84 291.70,92.93 292.20,93.01 292.70,93.10 293.20,93.18 293.70,93.26 294.20,93.34 294.70,93.42 295.20,93.50 295.70,93.57 296.20,93.64 296.70,93.71 297.20,93.78 297.70,93.85 298.20,93.92 298.70,93.98 299.20,94.05 299.70,94.11 300.20,94.17 300.70,94.23 301.20,94.29 301.70,94.34 302.20,94.40 302.70,94.45 303.20,94.51 303.70,94.56 304.20,94.61 304.70,94.66 305.20,94.71 305.70,94.76 306.20,94.80 306.70,94.85 307.20,94.89 307.70,94.94 308.20,94.98 308.70,95.02 309.20,95.06 309.70,95.10 310.20,95.14 310.70,95.18 311.20,95.22 311.70,95.25 312.20,95.29 312.70,95.33 313.20,95.36 313.70,95.39 314.20,95.43 314.70,95.46 315.20,95.49 315.70,95.52 316.20,95.55 316.70,95.58 317.20,95.61 317.70,95.64 318.20,95.66 318.70,95.69 319.20,95.72 319.70,95.74 320.20,95.77 320.70,95.79 321.20,95.82 321.70,95.84 322.20,95.86 322.70,95.89 323.20,95.91 323.70,95.93 324.20,95.95 324.70,95.97 325.20,95.99 325.70,96.01 326.20,96.03 326.70,96.05 327.20,96.07 327.70,96.09 328.20,96.10 328.70,96.12 329.20,96.14 329.70,96.16 330.20,96.17 330.70,96.19 331.20,96.20 331.70,96.22 332.20,96.23 332.70,96.25 333.20,96.26 333.70,96.28 334.20,96.29 334.70,96.30 335.20,96.32 335.70,96.33 336.20,96.34 336.70,96.35 337.20,96.36 337.70,96.38 338.20,96.39 338.70,96.40 339.20,96.41 339.70,96.42 340.20,96.43 340.70,96.44 341.20,96.45 341.70,96.46 342.20,96.47 342.70,96.48 343.20,96.49 343.70,96.50 344.20,96.51 344.70,96.52 345.20,96.52 345.70,96.53 346.20,96.54 346.70,96.55 347.20,96.56 347.70,96.56 348.20,96.57 348.70,96.58 349.20,96.58 349.70,96.59 350.20,96.60 350.70,96.60 351.20,96.61 351.70,96.62 352.20,96.62 352.70,96.63 353.20,96.64 353.70,96.64 354.20,96.65 354.70,96.65 355.20,96.66 355.70,96.66 356.20,96.67 356.70,96.67 357.20,96.68 357.70,96.68 358.20,96.69 358.70,96.69 359.20,96.70 359.70,96.70 360.20,96.71 360.70,96.71 361.20,96.71 361.70,96.72 362.20,96.72 362.70,96.73" fill="none" stroke="#2a1f8a" stroke-width="1.1" stroke-linejoin="round"/>
<rect x="221.8" y="11.3" width="141.20" height="113.00" fill="none" stroke="#333" stroke-width="1.0"/>
<text x="236.66" y="133.40" font-size="8.9" text-anchor="middle" fill="#333" stroke="#333" stroke-width="0.18">0.5</text>
<text x="261.93" y="133.40" font-size="8.9" text-anchor="middle" fill="#333" stroke="#333" stroke-width="0.18">1.0</text>
<text x="287.20" y="133.40" font-size="8.9" text-anchor="middle" fill="#333" stroke="#333" stroke-width="0.18">1.5</text>
<text x="312.46" y="133.40" font-size="8.9" text-anchor="middle" fill="#333" stroke="#333" stroke-width="0.18">2.0</text>
<text x="337.73" y="133.40" font-size="8.9" text-anchor="middle" fill="#333" stroke="#333" stroke-width="0.18">2.5</text>
<text x="363.00" y="133.40" font-size="8.9" text-anchor="middle" fill="#333" stroke="#333" stroke-width="0.18">3.0</text>
<line x1="228.24" y1="124.30" x2="228.24" y2="122.80" stroke="#444" stroke-width="0.8"/>
<line x1="236.66" y1="124.30" x2="236.66" y2="122.80" stroke="#444" stroke-width="0.8"/>
<line x1="245.08" y1="124.30" x2="245.08" y2="122.80" stroke="#444" stroke-width="0.8"/>
<line x1="253.51" y1="124.30" x2="253.51" y2="122.80" stroke="#444" stroke-width="0.8"/>
<line x1="261.93" y1="124.30" x2="261.93" y2="122.80" stroke="#444" stroke-width="0.8"/>
<line x1="270.35" y1="124.30" x2="270.35" y2="122.80" stroke="#444" stroke-width="0.8"/>
<line x1="278.77" y1="124.30" x2="278.77" y2="122.80" stroke="#444" stroke-width="0.8"/>
<line x1="287.20" y1="124.30" x2="287.20" y2="122.80" stroke="#444" stroke-width="0.8"/>
<line x1="295.62" y1="124.30" x2="295.62" y2="122.80" stroke="#444" stroke-width="0.8"/>
<line x1="304.04" y1="124.30" x2="304.04" y2="122.80" stroke="#444" stroke-width="0.8"/>
<line x1="312.46" y1="124.30" x2="312.46" y2="122.80" stroke="#444" stroke-width="0.8"/>
<line x1="320.89" y1="124.30" x2="320.89" y2="122.80" stroke="#444" stroke-width="0.8"/>
<line x1="329.31" y1="124.30" x2="329.31" y2="122.80" stroke="#444" stroke-width="0.8"/>
<line x1="337.73" y1="124.30" x2="337.73" y2="122.80" stroke="#444" stroke-width="0.8"/>
<line x1="346.15" y1="124.30" x2="346.15" y2="122.80" stroke="#444" stroke-width="0.8"/>
<line x1="354.58" y1="124.30" x2="354.58" y2="122.80" stroke="#444" stroke-width="0.8"/>
<text x="292.20" y="142.60" font-size="8.9" text-anchor="middle" fill="#333" stroke="#333" stroke-width="0.18">Time (us)</text>
<text x="213.30" y="68.60" font-size="8.8" text-anchor="middle" fill="#333" stroke="#333" stroke-width="0.18" transform="rotate(-90 213.3 68.6)">PL Intensity (Normalized)</text>
<line x1="326.50" y1="21.00" x2="332.60" y2="21.00" stroke="#444" stroke-width="1.0"/>
<text x="335.20" y="23.10" font-size="7.2" text-anchor="start" fill="#333" stroke="#333" stroke-width="0.18">W/O</text>
<line x1="326.50" y1="30.20" x2="332.60" y2="30.20" stroke="#f22" stroke-width="1.0"/>
<text x="336.80" y="32.30" font-size="7.2" text-anchor="start" fill="#333" stroke="#333" stroke-width="0.18">W/</text>
<text x="376.00" y="12.60" font-size="11.2" text-anchor="start" fill="#111" stroke="#111" stroke-width="0.18" style="stroke-width:0.45px">(c)</text>
<polyline points="403.70,36.50 404.39,36.99 405.29,37.64 406.35,38.41 407.54,39.27 408.84,40.19 410.20,41.14 411.60,42.09 413.00,43.00 414.43,43.91 415.94,44.87 417.52,45.86 419.15,46.86 420.82,47.85 422.51,48.84 424.21,49.79 425.90,50.70 427.61,51.59 429.37,52.48 431.15,53.36 432.94,54.22 434.74,55.04 436.52,55.80 438.28,56.49 440.00,57.10 441.71,57.61 443.45,58.03 445.19,58.37 446.90,58.66 448.56,58.92 450.15,59.17 451.64,59.42 453.00,59.70 454.23,59.99 455.36,60.26 456.39,60.52 457.34,60.78 458.23,61.03 459.07,61.30 459.89,61.59 460.70,61.90 461.48,62.22 462.21,62.52 462.90,62.83 463.55,63.16 464.17,63.52 464.76,63.92 465.34,64.38 465.90,64.90 466.44,65.49 466.94,66.14 467.42,66.84 467.88,67.58 468.32,68.36 468.75,69.18 469.18,70.03 469.60,70.90 470.02,71.81 470.42,72.77 470.81,73.77 471.19,74.80 471.57,75.85 471.95,76.90 472.32,77.96 472.70,79.00 473.08,80.04 473.47,81.09 473.85,82.15 474.24,83.22 474.62,84.28 474.99,85.34 475.35,86.38 475.70,87.40 476.03,88.41 476.34,89.40 476.64,90.39 476.94,91.37 477.23,92.34 477.54,93.30 477.86,94.25 478.20,95.20 478.56,96.15 478.94,97.10 479.32,98.04 479.72,98.97 480.13,99.89 480.54,100.79 480.97,101.66 481.40,102.50 481.83,103.31 482.26,104.10 482.69,104.87 483.14,105.61 483.60,106.33 484.10,107.02 484.63,107.68 485.20,108.30 485.83,108.89 486.50,109.46 487.20,110.01 487.94,110.52 488.69,111.00 489.46,111.44 490.23,111.84 491.00,112.20 491.66,112.51 492.18,112.78 492.64,113.00 493.15,113.19 493.79,113.35 494.65,113.49 495.82,113.60 497.40,113.70 499.47,113.77 501.99,113.80 504.83,113.80 507.89,113.78 511.05,113.75 514.20,113.72 517.22,113.70 520.00,113.70 522.71,113.72 525.53,113.74 528.36,113.77 531.11,113.80 533.69,113.83 535.99,113.86 537.93,113.88 539.40,113.90" fill="none" stroke="#222" stroke-width="1.2" stroke-linejoin="round"/>
<polyline points="403.70,43.00 404.39,43.38 405.29,43.88 406.35,44.48 407.54,45.14 408.84,45.86 410.20,46.61 411.60,47.36 413.00,48.10 414.43,48.85 415.94,49.65 417.52,50.48 419.15,51.33 420.82,52.17 422.51,53.01 424.21,53.83 425.90,54.60 427.61,55.35 429.37,56.11 431.15,56.85 432.94,57.58 434.74,58.28 436.52,58.94 438.28,59.55 440.00,60.10 441.71,60.58 443.45,61.01 445.19,61.38 446.90,61.72 448.56,62.03 450.15,62.32 451.64,62.61 453.00,62.90 454.24,63.19 455.39,63.46 456.44,63.71 457.42,63.96 458.32,64.19 459.17,64.43 459.96,64.66 460.70,64.90 461.37,65.12 461.94,65.30 462.44,65.47 462.89,65.65 463.30,65.85 463.71,66.10 464.14,66.41 464.60,66.80 465.09,67.27 465.58,67.81 466.06,68.39 466.55,69.03 467.04,69.71 467.53,70.44 468.01,71.20 468.50,72.00 468.99,72.85 469.50,73.76 470.00,74.73 470.51,75.72 471.00,76.75 471.49,77.78 471.96,78.80 472.40,79.80 472.82,80.79 473.23,81.79 473.61,82.80 473.99,83.81 474.35,84.81 474.71,85.82 475.06,86.81 475.40,87.80 475.73,88.78 476.04,89.76 476.34,90.73 476.63,91.70 476.93,92.66 477.23,93.62 477.55,94.56 477.90,95.50 478.27,96.43 478.65,97.37 479.05,98.30 479.46,99.22 479.88,100.12 480.31,101.01 480.75,101.87 481.20,102.70 481.65,103.50 482.09,104.29 482.54,105.06 482.99,105.81 483.47,106.53 483.98,107.22 484.52,107.88 485.10,108.50 485.73,109.09 486.40,109.66 487.11,110.21 487.84,110.72 488.59,111.20 489.36,111.64 490.13,112.04 490.90,112.40 491.57,112.71 492.10,112.98 492.58,113.20 493.10,113.39 493.75,113.55 494.63,113.69 495.81,113.80 497.40,113.90 499.48,113.97 501.99,114.00 504.84,114.00 507.89,113.98 511.05,113.94 514.20,113.91 517.22,113.90 520.00,113.90 522.71,113.93 525.53,113.96 528.36,114.00 531.11,114.05 533.69,114.10 535.99,114.14 537.93,114.17 539.40,114.20" fill="none" stroke="#f33" stroke-width="1.2" stroke-linejoin="round"/>
<rect x="403.6" y="13.1" width="136.20" height="108.80" fill="none" stroke="#3a3a3a" stroke-width="1.0"/>
<text x="403.20" y="131.00" font-size="8.9" text-anchor="middle" fill="#333" stroke="#333" stroke-width="0.18">650</text>
<text x="430.56" y="131.00" font-size="8.9" text-anchor="middle" fill="#333" stroke="#333" stroke-width="0.18">700</text>
<text x="457.92" y="131.00" font-size="8.9" text-anchor="middle" fill="#333" stroke="#333" stroke-width="0.18">750</text>
<text x="485.28" y="131.00" font-size="8.9" text-anchor="middle" fill="#333" stroke="#333" stroke-width="0.18">800</text>
<text x="512.64" y="131.00" font-size="8.9" text-anchor="middle" fill="#333" stroke="#333" stroke-width="0.18">850</text>
<text x="540.00" y="131.00" font-size="8.9" text-anchor="middle" fill="#333" stroke="#333" stroke-width="0.18">900</text>
<line x1="412.32" y1="121.90" x2="412.32" y2="120.40" stroke="#555" stroke-width="0.8"/>
<line x1="421.44" y1="121.90" x2="421.44" y2="120.40" stroke="#555" stroke-width="0.8"/>
<line x1="430.56" y1="121.90" x2="430.56" y2="120.40" stroke="#555" stroke-width="0.8"/>
<line x1="439.68" y1="121.90" x2="439.68" y2="120.40" stroke="#555" stroke-width="0.8"/>
<line x1="448.80" y1="121.90" x2="448.80" y2="120.40" stroke="#555" stroke-width="0.8"/>
<line x1="457.92" y1="121.90" x2="457.92" y2="120.40" stroke="#555" stroke-width="0.8"/>
<line x1="467.04" y1="121.90" x2="467.04" y2="120.40" stroke="#555" stroke-width="0.8"/>
<line x1="476.16" y1="121.90" x2="476.16" y2="120.40" stroke="#555" stroke-width="0.8"/>
<line x1="485.28" y1="121.90" x2="485.28" y2="120.40" stroke="#555" stroke-width="0.8"/>
<line x1="494.40" y1="121.90" x2="494.40" y2="120.40" stroke="#555" stroke-width="0.8"/>
<line x1="503.52" y1="121.90" x2="503.52" y2="120.40" stroke="#555" stroke-width="0.8"/>
<line x1="512.64" y1="121.90" x2="512.64" y2="120.40" stroke="#555" stroke-width="0.8"/>
<line x1="521.76" y1="121.90" x2="521.76" y2="120.40" stroke="#555" stroke-width="0.8"/>
<line x1="530.88" y1="121.90" x2="530.88" y2="120.40" stroke="#555" stroke-width="0.8"/>
<text x="471.50" y="140.60" font-size="8.9" text-anchor="middle" fill="#333" stroke="#333" stroke-width="0.18">Wavelength (nm)</text>
<text x="394.60" y="70.20" font-size="9.0" text-anchor="middle" fill="#333" stroke="#333" stroke-width="0.18" transform="rotate(-90 394.6 70.2)">Absorpsion (a.u.)</text>
<line x1="410.80" y1="19.50" x2="421.70" y2="19.50" stroke="#111" stroke-width="1.1"/>
<text x="424.50" y="21.80" font-size="7.0" text-anchor="start" fill="#222" stroke="#222" stroke-width="0.18">W/O</text>
<line x1="410.80" y1="27.70" x2="421.70" y2="27.70" stroke="#f33" stroke-width="1.2"/>
<text x="424.50" y="29.80" font-size="7.0" text-anchor="start" fill="#222" stroke="#222" stroke-width="0.18">W/</text>
<polyline points="484.50,25.20 485.08,25.39 485.84,25.62 486.74,25.88 487.75,26.19 488.82,26.56 489.91,26.97 490.99,27.45 492.00,28.00 492.98,28.62 493.97,29.31 494.98,30.07 495.99,30.88 497.01,31.74 498.02,32.63 499.02,33.56 500.00,34.50 500.97,35.48 501.93,36.53 502.89,37.62 503.84,38.74 504.78,39.87 505.72,41.00 506.66,42.12 507.60,43.20 508.53,44.27 509.45,45.33 510.36,46.40 511.28,47.46 512.19,48.50 513.11,49.53 514.05,50.53 515.00,51.50 515.97,52.45 516.96,53.39 517.96,54.30 518.96,55.20 519.97,56.07 520.99,56.91 522.00,57.72 523.00,58.50 524.05,59.26 525.19,60.03 526.35,60.78 527.50,61.49 528.59,62.14 529.56,62.73 530.38,63.22 531.00,63.60" fill="none" stroke="#333" stroke-width="0.8" stroke-linejoin="round"/>
<polyline points="483.20,25.20 483.78,25.41 484.56,25.65 485.48,25.94 486.50,26.28 487.59,26.66 488.69,27.11 489.78,27.62 490.80,28.20 491.78,28.85 492.77,29.58 493.77,30.37 494.77,31.22 495.78,32.11 496.78,33.05 497.79,34.01 498.80,35.00 499.81,36.03 500.82,37.14 501.83,38.29 502.85,39.47 503.87,40.66 504.88,41.84 505.89,42.99 506.90,44.10 507.91,45.17 508.91,46.23 509.91,47.27 510.91,48.29 511.91,49.30 512.91,50.29 513.91,51.26 514.90,52.20 515.89,53.13 516.87,54.04 517.86,54.94 518.84,55.82 519.82,56.67 520.81,57.49 521.80,58.26 522.80,59.00 523.87,59.71 525.02,60.41 526.21,61.09 527.39,61.73 528.51,62.31 529.52,62.83 530.37,63.26 531.00,63.60" fill="none" stroke="#f44" stroke-width="0.8" stroke-linejoin="round"/>
<rect x="480.2" y="25.0" width="50.90" height="38.60" fill="none" stroke="#555" stroke-width="0.6"/>
<text x="482.20" y="67.40" font-size="2.6" text-anchor="middle" fill="#777" stroke="#777" stroke-width="0.18">760</text>
<text x="490.02" y="67.40" font-size="2.6" text-anchor="middle" fill="#777" stroke="#777" stroke-width="0.18">765</text>
<text x="497.83" y="67.40" font-size="2.6" text-anchor="middle" fill="#777" stroke="#777" stroke-width="0.18">770</text>
<text x="505.65" y="67.40" font-size="2.6" text-anchor="middle" fill="#777" stroke="#777" stroke-width="0.18">775</text>
<text x="513.47" y="67.40" font-size="2.6" text-anchor="middle" fill="#777" stroke="#777" stroke-width="0.18">780</text>
<text x="521.28" y="67.40" font-size="2.6" text-anchor="middle" fill="#777" stroke="#777" stroke-width="0.18">785</text>
<text x="529.10" y="67.40" font-size="2.6" text-anchor="middle" fill="#777" stroke="#777" stroke-width="0.18">790</text>
<text x="505.00" y="71.30" font-size="3.0" text-anchor="middle" fill="#777" stroke="#777" stroke-width="0.18">Wavelength (nm)</text>
<text x="476.60" y="45.00" font-size="3.0" text-anchor="middle" fill="#777" stroke="#777" stroke-width="0.18" transform="rotate(-90 476.6 45)">Absorption (a.u.)</text>
<line x1="518.00" y1="28.40" x2="522.50" y2="28.40" stroke="#333" stroke-width="0.6"/>
<line x1="518.00" y1="32.60" x2="522.50" y2="32.60" stroke="#f44" stroke-width="0.6"/>
<text x="523.50" y="29.50" font-size="2.6" text-anchor="start" fill="#777" stroke="#777" stroke-width="0.18">W/O</text>
<text x="523.50" y="33.70" font-size="2.6" text-anchor="start" fill="#777" stroke="#777" stroke-width="0.18">W/</text>
<text x="2.30" y="158.60" font-size="12" text-anchor="start" fill="#222" stroke="#222" stroke-width="0.18">(d)</text>
<polyline points="31.70,280.04 32.84,277.13 33.98,274.28 35.11,271.44 36.25,268.52 37.39,265.47 38.52,262.20 39.66,258.52 40.80,254.40 41.94,250.10 43.08,245.86 44.21,241.92 45.35,238.53 46.49,235.69 47.62,233.17 48.76,230.84 49.90,228.57 51.04,226.24 52.17,223.72 53.31,220.95 54.45,218.00 55.59,214.99 56.73,211.99 57.86,209.11 59.00,206.44 60.14,203.90 61.27,201.38 62.41,198.96 63.55,196.69 64.69,194.64 65.83,192.86 66.96,191.28 68.10,189.78 69.24,188.41 70.38,187.18 71.51,186.15 72.65,185.35 73.79,184.72 74.92,184.20 76.06,183.75 77.20,183.34 78.34,182.94 79.47,182.54 80.61,182.13 81.75,181.72 82.89,181.33 84.02,180.96 85.16,180.61 86.30,180.30 87.44,179.99 88.58,179.66 89.71,179.35 90.85,179.09 91.99,178.91 93.12,178.84 94.26,178.86 95.40,178.91 96.54,178.99 97.67,179.08 98.81,179.18 99.95,179.29 101.09,179.41 102.23,179.55 103.36,179.71 104.50,179.90 105.64,180.09 106.78,180.30 107.91,180.52 109.05,180.77 110.19,181.04 111.33,181.34 112.46,181.65 113.60,181.98 114.74,182.39 115.88,182.90 117.01,183.43 118.15,183.93 119.29,184.33 120.42,184.56 121.56,184.67 122.70,184.74 123.84,184.79 124.97,184.84 126.11,184.91 127.25,185.01 128.39,185.17 129.53,185.40 130.66,185.71 131.80,186.08 132.94,186.52 134.07,187.03 135.21,187.66 136.35,188.52 137.49,189.63 138.62,191.05 139.76,192.83 140.90,195.00 142.04,201.06 143.18,212.75 144.31,227.45 145.45,242.56 146.59,255.46 147.72,263.55 148.86,268.25 150.00,272.57 151.14,276.30 152.27,279.24 153.41,281.15 154.55,281.84 155.69,281.84 156.82,281.84 157.96,281.84 159.10,281.84 160.24,281.84 161.38,281.84" fill="none" stroke="#222" stroke-width="0.8" stroke-linejoin="round"/>
<polyline points="31.70,280.70 32.84,280.67 33.98,280.64 35.11,280.62 36.25,280.59 37.39,280.55 38.52,280.50 39.66,280.41 40.80,280.26 41.94,280.07 43.08,279.85 44.21,279.62 45.35,279.40 46.49,279.19 47.62,278.97 48.76,278.75 49.90,278.50 51.04,278.22 52.17,277.90 53.31,277.51 54.45,277.05 55.59,276.52 56.73,275.94 57.86,275.33 59.00,274.70 60.14,274.05 61.27,273.34 62.41,272.60 63.55,271.81 64.69,270.97 65.83,270.10 66.96,269.17 68.10,268.17 69.24,267.10 70.38,266.00 71.51,264.86 72.65,263.70 73.79,262.51 74.92,261.26 76.06,259.97 77.20,258.66 78.34,257.33 79.47,256.00 80.61,254.65 81.75,253.27 82.89,251.88 84.02,250.47 85.16,249.08 86.30,247.70 87.44,246.34 88.58,244.99 89.71,243.65 90.85,242.31 91.99,240.96 93.12,239.60 94.26,238.23 95.40,236.85 96.54,235.46 97.67,234.07 98.81,232.69 99.95,231.30 101.09,229.92 102.23,228.55 103.36,227.17 104.50,225.80 105.64,224.41 106.78,223.00 107.91,221.57 109.05,220.13 110.19,218.68 111.33,217.22 112.46,215.76 113.60,214.30 114.74,212.83 115.88,211.34 117.01,209.85 118.15,208.37 119.29,206.91 120.42,205.50 121.56,204.13 122.70,202.80 123.84,201.49 124.97,200.19 126.11,198.90 127.25,197.60 128.39,196.27 129.53,194.92 130.66,193.57 131.80,192.25 132.94,190.99 134.07,189.80 135.21,188.68 136.35,187.60 137.49,186.56 138.62,185.56 139.76,184.61 140.90,183.70 142.04,182.74 143.18,181.69 144.31,180.69 145.45,179.83 146.59,179.23 147.72,179.00 148.86,179.00 150.00,179.00 151.14,179.00 152.27,179.00 153.41,179.00 154.55,179.00 155.69,179.00 156.82,179.00 157.96,179.00 159.10,179.00 160.24,179.00 161.38,179.00 162.51,179.00 163.65,179.00 164.79,179.00 165.92,179.00 167.06,179.00 168.20,179.00" fill="none" stroke="#222" stroke-width="0.8" stroke-linejoin="round"/>
<polyline points="31.70,277.91 32.84,273.87 33.98,269.90 35.11,265.93 36.25,261.89 37.39,257.72 38.52,253.34 39.66,248.48 40.80,243.13 41.94,237.61 43.08,232.26 44.21,227.41 45.35,223.38 46.49,220.07 47.62,217.09 48.76,214.38 49.90,211.88 51.04,209.51 52.17,207.23 53.31,205.02 54.45,202.94 55.59,200.96 56.73,199.06 57.86,197.23 59.00,195.44 60.14,193.62 61.27,191.76 62.41,189.95 63.55,188.29 64.69,186.87 65.83,185.80 66.96,184.99 68.10,184.31 69.24,183.72 70.38,183.19 71.51,182.70 72.65,182.21 73.79,181.71 74.92,181.24 76.06,180.78 77.20,180.36 78.34,179.97 79.47,179.62 80.61,179.28 81.75,178.93 82.89,178.60 84.02,178.32 85.16,178.13 86.30,178.05 87.44,178.05 88.58,178.05 89.71,178.05 90.85,178.05 91.99,178.05 93.12,178.05 94.26,178.10 95.40,178.22 96.54,178.38 97.67,178.58 98.81,178.78 99.95,178.95 101.09,179.11 102.23,179.26 103.36,179.42 104.50,179.58 105.64,179.76 106.78,179.96 107.91,180.19 109.05,180.43 110.19,180.71 111.33,181.00 112.46,181.31 113.60,181.64 114.74,182.07 115.88,182.60 117.01,183.16 118.15,183.68 119.29,184.06 120.42,184.22 121.56,184.25 122.70,184.27 123.84,184.28 124.97,184.29 126.11,184.31 127.25,184.34 128.39,184.43 129.53,184.64 130.66,184.95 131.80,185.34 132.94,185.82 134.07,186.36 135.21,187.13 136.35,188.33 137.49,189.97 138.62,192.04 139.76,194.58 140.90,197.58 142.04,204.72 143.18,217.71 144.31,233.64 145.45,249.59 146.59,262.62 147.72,269.83 148.86,273.00 150.00,275.78 151.14,278.10 152.27,279.87 153.41,281.00 154.55,281.39 155.69,281.39 156.82,281.39 157.96,281.39 159.10,281.39 160.24,281.39 161.38,281.39" fill="none" stroke="#f22" stroke-width="0.8" stroke-linejoin="round"/>
<polyline points="31.70,279.00 32.84,278.97 33.98,278.94 35.11,278.92 36.25,278.89 37.39,278.85 38.52,278.80 39.66,278.71 40.80,278.56 41.94,278.37 43.08,278.15 44.21,277.92 45.35,277.70 46.49,277.49 47.62,277.27 48.76,277.05 49.90,276.80 51.04,276.52 52.17,276.20 53.31,275.81 54.45,275.35 55.59,274.82 56.73,274.24 57.86,273.63 59.00,273.00 60.14,272.35 61.27,271.64 62.41,270.90 63.55,270.11 64.69,269.27 65.83,268.40 66.96,267.47 68.10,266.47 69.24,265.40 70.38,264.30 71.51,263.16 72.65,262.00 73.79,260.81 74.92,259.56 76.06,258.27 77.20,256.96 78.34,255.63 79.47,254.30 80.61,252.95 81.75,251.57 82.89,250.18 84.02,248.77 85.16,247.38 86.30,246.00 87.44,244.64 88.58,243.29 89.71,241.95 90.85,240.61 91.99,239.26 93.12,237.90 94.26,236.53 95.40,235.15 96.54,233.76 97.67,232.37 98.81,230.99 99.95,229.60 101.09,228.22 102.23,226.85 103.36,225.47 104.50,224.10 105.64,222.71 106.78,221.30 107.91,219.87 109.05,218.43 110.19,216.98 111.33,215.52 112.46,214.06 113.60,212.60 114.74,211.13 115.88,209.64 117.01,208.15 118.15,206.67 119.29,205.21 120.42,203.80 121.56,202.43 122.70,201.10 123.84,199.79 124.97,198.49 126.11,197.20 127.25,195.90 128.39,194.57 129.53,193.22 130.66,191.87 131.80,190.55 132.94,189.29 134.07,188.10 135.21,186.97 136.35,185.88 137.49,184.83 138.62,183.83 139.76,182.89 140.90,182.00 142.04,181.08 143.18,180.10 144.31,179.16 145.45,178.36 146.59,177.81 147.72,177.60 148.86,177.60 150.00,177.60 151.14,177.60 152.27,177.60 153.41,177.60 154.55,177.60 155.69,177.60 156.82,177.60 157.96,177.60 159.10,177.60 160.24,177.60 161.38,177.60 162.51,177.60 163.65,177.60 164.79,177.60 165.92,177.60 167.06,177.60 168.20,177.60" fill="none" stroke="#f22" stroke-width="0.8" stroke-linejoin="round"/>
<defs><radialGradient id="gr" cx="0.5" cy="0.5" r="0.5" fx="0.35" fy="0.3"><stop offset="0" stop-color="#fdd"/><stop offset="0.35" stop-color="#f22"/><stop offset="0.8" stop-color="#e00"/><stop offset="1" stop-color="#a00"/></radialGradient><radialGradient id="gb" cx="0.5" cy="0.5" r="0.5" fx="0.35" fy="0.3"><stop offset="0" stop-color="#999"/><stop offset="0.4" stop-color="#222"/><stop offset="1" stop-color="#000"/></radialGradient></defs>
<circle cx="31.70" cy="280.04" r="2.2" fill="url(#gb)"/>
<circle cx="38.52" cy="262.20" r="2.2" fill="url(#gb)"/>
<circle cx="45.35" cy="238.53" r="2.2" fill="url(#gb)"/>
<circle cx="52.17" cy="223.72" r="2.2" fill="url(#gb)"/>
<circle cx="59.00" cy="206.44" r="2.2" fill="url(#gb)"/>
<circle cx="65.83" cy="192.86" r="2.2" fill="url(#gb)"/>
<circle cx="72.65" cy="185.35" r="2.2" fill="url(#gb)"/>
<circle cx="79.47" cy="182.54" r="2.2" fill="url(#gb)"/>
<circle cx="86.30" cy="180.30" r="2.2" fill="url(#gb)"/>
<circle cx="93.12" cy="178.84" r="2.2" fill="url(#gb)"/>
<circle cx="99.95" cy="179.29" r="2.2" fill="url(#gb)"/>
<circle cx="106.78" cy="180.30" r="2.2" fill="url(#gb)"/>
<circle cx="113.60" cy="181.98" r="2.2" fill="url(#gb)"/>
<circle cx="120.42" cy="184.56" r="2.2" fill="url(#gb)"/>
<circle cx="127.25" cy="185.01" r="2.2" fill="url(#gb)"/>
<circle cx="134.07" cy="187.03" r="2.2" fill="url(#gb)"/>
<circle cx="140.90" cy="195.00" r="2.2" fill="url(#gb)"/>
<circle cx="147.72" cy="263.55" r="2.2" fill="url(#gb)"/>
<circle cx="154.55" cy="281.84" r="2.2" fill="url(#gb)"/>
<circle cx="161.38" cy="281.84" r="2.2" fill="url(#gb)"/>
<circle cx="31.70" cy="280.70" r="2.2" fill="url(#gb)"/>
<circle cx="38.52" cy="280.50" r="2.2" fill="url(#gb)"/>
<circle cx="45.35" cy="279.40" r="2.2" fill="url(#gb)"/>
<circle cx="52.17" cy="277.90" r="2.2" fill="url(#gb)"/>
<circle cx="59.00" cy="274.70" r="2.2" fill="url(#gb)"/>
<circle cx="65.83" cy="270.10" r="2.2" fill="url(#gb)"/>
<circle cx="72.65" cy="263.70" r="2.2" fill="url(#gb)"/>
<circle cx="79.47" cy="256.00" r="2.2" fill="url(#gb)"/>
<circle cx="86.30" cy="247.70" r="2.2" fill="url(#gb)"/>
<circle cx="93.12" cy="239.60" r="2.2" fill="url(#gb)"/>
<circle cx="99.95" cy="231.30" r="2.2" fill="url(#gb)"/>
<circle cx="106.78" cy="223.00" r="2.2" fill="url(#gb)"/>
<circle cx="113.60" cy="214.30" r="2.2" fill="url(#gb)"/>
<circle cx="120.42" cy="205.50" r="2.2" fill="url(#gb)"/>
<circle cx="127.25" cy="197.60" r="2.2" fill="url(#gb)"/>
<circle cx="134.07" cy="189.80" r="2.2" fill="url(#gb)"/>
<circle cx="140.90" cy="183.70" r="2.2" fill="url(#gb)"/>
<circle cx="147.72" cy="179.00" r="2.2" fill="url(#gb)"/>
<circle cx="154.55" cy="179.00" r="2.2" fill="url(#gb)"/>
<circle cx="161.38" cy="179.00" r="2.2" fill="url(#gb)"/>
<circle cx="168.20" cy="179.00" r="2.2" fill="url(#gb)"/>
<circle cx="31.70" cy="277.91" r="2.2" fill="url(#gr)"/>
<circle cx="38.52" cy="253.34" r="2.2" fill="url(#gr)"/>
<circle cx="45.35" cy="223.38" r="2.2" fill="url(#gr)"/>
<circle cx="52.17" cy="207.23" r="2.2" fill="url(#gr)"/>
<circle cx="59.00" cy="195.44" r="2.2" fill="url(#gr)"/>
<circle cx="65.83" cy="185.80" r="2.2" fill="url(#gr)"/>
<circle cx="72.65" cy="182.21" r="2.2" fill="url(#gr)"/>
<circle cx="79.47" cy="179.62" r="2.2" fill="url(#gr)"/>
<circle cx="86.30" cy="178.05" r="2.2" fill="url(#gr)"/>
<circle cx="93.12" cy="178.05" r="2.2" fill="url(#gr)"/>
<circle cx="99.95" cy="178.95" r="2.2" fill="url(#gr)"/>
<circle cx="106.78" cy="179.96" r="2.2" fill="url(#gr)"/>
<circle cx="113.60" cy="181.64" r="2.2" fill="url(#gr)"/>
<circle cx="120.42" cy="184.22" r="2.2" fill="url(#gr)"/>
<circle cx="127.25" cy="184.34" r="2.2" fill="url(#gr)"/>
<circle cx="134.07" cy="186.36" r="2.2" fill="url(#gr)"/>
<circle cx="140.90" cy="197.58" r="2.2" fill="url(#gr)"/>
<circle cx="147.72" cy="269.83" r="2.2" fill="url(#gr)"/>
<circle cx="154.55" cy="281.39" r="2.2" fill="url(#gr)"/>
<circle cx="161.38" cy="281.39" r="2.2" fill="url(#gr)"/>
<circle cx="31.70" cy="279.00" r="2.2" fill="url(#gr)"/>
<circle cx="38.52" cy="278.80" r="2.2" fill="url(#gr)"/>
<circle cx="45.35" cy="277.70" r="2.2" fill="url(#gr)"/>
<circle cx="52.17" cy="276.20" r="2.2" fill="url(#gr)"/>
<circle cx="59.00" cy="273.00" r="2.2" fill="url(#gr)"/>
<circle cx="65.83" cy="268.40" r="2.2" fill="url(#gr)"/>
<circle cx="72.65" cy="262.00" r="2.2" fill="url(#gr)"/>
<circle cx="79.47" cy="254.30" r="2.2" fill="url(#gr)"/>
<circle cx="86.30" cy="246.00" r="2.2" fill="url(#gr)"/>
<circle cx="93.12" cy="237.90" r="2.2" fill="url(#gr)"/>
<circle cx="99.95" cy="229.60" r="2.2" fill="url(#gr)"/>
<circle cx="106.78" cy="221.30" r="2.2" fill="url(#gr)"/>
<circle cx="113.60" cy="212.60" r="2.2" fill="url(#gr)"/>
<circle cx="120.42" cy="203.80" r="2.2" fill="url(#gr)"/>
<circle cx="127.25" cy="195.90" r="2.2" fill="url(#gr)"/>
<circle cx="134.07" cy="188.10" r="2.2" fill="url(#gr)"/>
<circle cx="140.90" cy="182.00" r="2.2" fill="url(#gr)"/>
<circle cx="147.72" cy="177.60" r="2.2" fill="url(#gr)"/>
<circle cx="154.55" cy="177.60" r="2.2" fill="url(#gr)"/>
<circle cx="161.38" cy="177.60" r="2.2" fill="url(#gr)"/>
<circle cx="168.20" cy="177.60" r="2.2" fill="url(#gr)"/>
<rect x="27.2" y="170.2" width="141.10" height="112.80" fill="none" stroke="#222" stroke-width="1.0"/>
<text x="24.00" y="285.50" font-size="8.8" text-anchor="end" fill="#222" stroke="#222" stroke-width="0.18">0</text>
<text x="24.00" y="263.06" font-size="8.8" text-anchor="end" fill="#222" stroke="#222" stroke-width="0.18">20</text>
<text x="24.00" y="240.62" font-size="8.8" text-anchor="end" fill="#222" stroke="#222" stroke-width="0.18">40</text>
<text x="24.00" y="218.18" font-size="8.8" text-anchor="end" fill="#222" stroke="#222" stroke-width="0.18">60</text>
<text x="24.00" y="195.74" font-size="8.8" text-anchor="end" fill="#222" stroke="#222" stroke-width="0.18">80</text>
<text x="24.00" y="173.30" font-size="8.8" text-anchor="end" fill="#222" stroke="#222" stroke-width="0.18">100</text>
<text x="170.30" y="281.50" font-size="8.8" text-anchor="start" fill="#222" stroke="#222" stroke-width="0.18">0</text>
<text x="170.30" y="259.78" font-size="8.8" text-anchor="start" fill="#222" stroke="#222" stroke-width="0.18">5</text>
<text x="170.30" y="238.06" font-size="8.8" text-anchor="start" fill="#222" stroke="#222" stroke-width="0.18">10</text>
<text x="170.30" y="216.34" font-size="8.8" text-anchor="start" fill="#222" stroke="#222" stroke-width="0.18">15</text>
<text x="170.30" y="194.62" font-size="8.8" text-anchor="start" fill="#222" stroke="#222" stroke-width="0.18">20</text>
<text x="170.30" y="172.90" font-size="8.8" text-anchor="start" fill="#222" stroke="#222" stroke-width="0.18">25</text>
<text x="31.70" y="293.80" font-size="8.8" text-anchor="middle" fill="#222" stroke="#222" stroke-width="0.18">300</text>
<text x="54.45" y="293.80" font-size="8.8" text-anchor="middle" fill="#222" stroke="#222" stroke-width="0.18">400</text>
<text x="77.20" y="293.80" font-size="8.8" text-anchor="middle" fill="#222" stroke="#222" stroke-width="0.18">500</text>
<text x="99.95" y="293.80" font-size="8.8" text-anchor="middle" fill="#222" stroke="#222" stroke-width="0.18">600</text>
<text x="122.70" y="293.80" font-size="8.8" text-anchor="middle" fill="#222" stroke="#222" stroke-width="0.18">700</text>
<text x="145.45" y="293.80" font-size="8.8" text-anchor="middle" fill="#222" stroke="#222" stroke-width="0.18">800</text>
<text x="168.20" y="293.80" font-size="8.8" text-anchor="middle" fill="#222" stroke="#222" stroke-width="0.18">900</text>
<text x="97.00" y="302.80" font-size="8.8" text-anchor="middle" fill="#222" stroke="#222" stroke-width="0.18">Wavelength (nm)</text>
<text x="11.30" y="222.50" font-size="8.7" text-anchor="middle" fill="#222" stroke="#222" stroke-width="0.18" transform="rotate(-90 11.3 222.5)">EQE (%)</text>
<text x="189.60" y="224.00" font-size="8.3" text-anchor="middle" fill="#222" stroke="#222" stroke-width="0.18" transform="rotate(-90 189.6 224.0)">Jsc (mA/cm<tspan font-size="6" dy="-3.2">2</tspan><tspan dy="3.2">)</tspan></text>
<line x1="27.20" y1="277.36" x2="28.60" y2="277.36" stroke="#222" stroke-width="0.6"/>
<line x1="27.20" y1="271.72" x2="28.60" y2="271.72" stroke="#222" stroke-width="0.6"/>
<line x1="27.20" y1="266.08" x2="28.60" y2="266.08" stroke="#222" stroke-width="0.6"/>
<line x1="27.20" y1="260.44" x2="28.60" y2="260.44" stroke="#222" stroke-width="0.6"/>
<line x1="27.20" y1="254.80" x2="28.60" y2="254.80" stroke="#222" stroke-width="0.6"/>
<line x1="27.20" y1="249.16" x2="28.60" y2="249.16" stroke="#222" stroke-width="0.6"/>
<line x1="27.20" y1="243.52" x2="28.60" y2="243.52" stroke="#222" stroke-width="0.6"/>
<line x1="27.20" y1="237.88" x2="28.60" y2="237.88" stroke="#222" stroke-width="0.6"/>
<line x1="27.20" y1="232.24" x2="28.60" y2="232.24" stroke="#222" stroke-width="0.6"/>
<line x1="27.20" y1="226.60" x2="28.60" y2="226.60" stroke="#222" stroke-width="0.6"/>
<line x1="27.20" y1="220.96" x2="28.60" y2="220.96" stroke="#222" stroke-width="0.6"/>
<line x1="27.20" y1="215.32" x2="28.60" y2="215.32" stroke="#222" stroke-width="0.6"/>
<line x1="27.20" y1="209.68" x2="28.60" y2="209.68" stroke="#222" stroke-width="0.6"/>
<line x1="27.20" y1="204.04" x2="28.60" y2="204.04" stroke="#222" stroke-width="0.6"/>
<line x1="27.20" y1="198.40" x2="28.60" y2="198.40" stroke="#222" stroke-width="0.6"/>
<line x1="27.20" y1="192.76" x2="28.60" y2="192.76" stroke="#222" stroke-width="0.6"/>
<line x1="27.20" y1="187.12" x2="28.60" y2="187.12" stroke="#222" stroke-width="0.6"/>
<line x1="27.20" y1="181.48" x2="28.60" y2="181.48" stroke="#222" stroke-width="0.6"/>
<line x1="27.20" y1="175.84" x2="28.60" y2="175.84" stroke="#222" stroke-width="0.6"/>
<line x1="168.30" y1="273.86" x2="166.90" y2="273.86" stroke="#222" stroke-width="0.6"/>
<line x1="168.30" y1="269.51" x2="166.90" y2="269.51" stroke="#222" stroke-width="0.6"/>
<line x1="168.30" y1="265.17" x2="166.90" y2="265.17" stroke="#222" stroke-width="0.6"/>
<line x1="168.30" y1="260.82" x2="166.90" y2="260.82" stroke="#222" stroke-width="0.6"/>
<line x1="168.30" y1="256.48" x2="166.90" y2="256.48" stroke="#222" stroke-width="0.6"/>
<line x1="168.30" y1="252.14" x2="166.90" y2="252.14" stroke="#222" stroke-width="0.6"/>
<line x1="168.30" y1="247.79" x2="166.90" y2="247.79" stroke="#222" stroke-width="0.6"/>
<line x1="168.30" y1="243.45" x2="166.90" y2="243.45" stroke="#222" stroke-width="0.6"/>
<line x1="168.30" y1="239.10" x2="166.90" y2="239.10" stroke="#222" stroke-width="0.6"/>
<line x1="168.30" y1="234.76" x2="166.90" y2="234.76" stroke="#222" stroke-width="0.6"/>
<line x1="168.30" y1="230.42" x2="166.90" y2="230.42" stroke="#222" stroke-width="0.6"/>
<line x1="168.30" y1="226.07" x2="166.90" y2="226.07" stroke="#222" stroke-width="0.6"/>
<line x1="168.30" y1="221.73" x2="166.90" y2="221.73" stroke="#222" stroke-width="0.6"/>
<line x1="168.30" y1="217.38" x2="166.90" y2="217.38" stroke="#222" stroke-width="0.6"/>
<line x1="168.30" y1="213.04" x2="166.90" y2="213.04" stroke="#222" stroke-width="0.6"/>
<line x1="168.30" y1="208.70" x2="166.90" y2="208.70" stroke="#222" stroke-width="0.6"/>
<line x1="168.30" y1="204.35" x2="166.90" y2="204.35" stroke="#222" stroke-width="0.6"/>
<line x1="168.30" y1="200.01" x2="166.90" y2="200.01" stroke="#222" stroke-width="0.6"/>
<line x1="168.30" y1="195.66" x2="166.90" y2="195.66" stroke="#222" stroke-width="0.6"/>
<line x1="168.30" y1="191.32" x2="166.90" y2="191.32" stroke="#222" stroke-width="0.6"/>
<line x1="168.30" y1="186.98" x2="166.90" y2="186.98" stroke="#222" stroke-width="0.6"/>
<line x1="168.30" y1="182.63" x2="166.90" y2="182.63" stroke="#222" stroke-width="0.6"/>
<line x1="168.30" y1="178.29" x2="166.90" y2="178.29" stroke="#222" stroke-width="0.6"/>
<line x1="168.30" y1="173.94" x2="166.90" y2="173.94" stroke="#222" stroke-width="0.6"/>
<line x1="36.25" y1="283.00" x2="36.25" y2="281.60" stroke="#222" stroke-width="0.6"/>
<line x1="40.80" y1="283.00" x2="40.80" y2="281.60" stroke="#222" stroke-width="0.6"/>
<line x1="45.35" y1="283.00" x2="45.35" y2="281.60" stroke="#222" stroke-width="0.6"/>
<line x1="49.90" y1="283.00" x2="49.90" y2="281.60" stroke="#222" stroke-width="0.6"/>
<line x1="54.45" y1="283.00" x2="54.45" y2="281.60" stroke="#222" stroke-width="0.6"/>
<line x1="59.00" y1="283.00" x2="59.00" y2="281.60" stroke="#222" stroke-width="0.6"/>
<line x1="63.55" y1="283.00" x2="63.55" y2="281.60" stroke="#222" stroke-width="0.6"/>
<line x1="68.10" y1="283.00" x2="68.10" y2="281.60" stroke="#222" stroke-width="0.6"/>
<line x1="72.65" y1="283.00" x2="72.65" y2="281.60" stroke="#222" stroke-width="0.6"/>
<line x1="77.20" y1="283.00" x2="77.20" y2="281.60" stroke="#222" stroke-width="0.6"/>
<line x1="81.75" y1="283.00" x2="81.75" y2="281.60" stroke="#222" stroke-width="0.6"/>
<line x1="86.30" y1="283.00" x2="86.30" y2="281.60" stroke="#222" stroke-width="0.6"/>
<line x1="90.85" y1="283.00" x2="90.85" y2="281.60" stroke="#222" stroke-width="0.6"/>
<line x1="95.40" y1="283.00" x2="95.40" y2="281.60" stroke="#222" stroke-width="0.6"/>
<line x1="99.95" y1="283.00" x2="99.95" y2="281.60" stroke="#222" stroke-width="0.6"/>
<line x1="104.50" y1="283.00" x2="104.50" y2="281.60" stroke="#222" stroke-width="0.6"/>
<line x1="109.05" y1="283.00" x2="109.05" y2="281.60" stroke="#222" stroke-width="0.6"/>
<line x1="113.60" y1="283.00" x2="113.60" y2="281.60" stroke="#222" stroke-width="0.6"/>
<line x1="118.15" y1="283.00" x2="118.15" y2="281.60" stroke="#222" stroke-width="0.6"/>
<line x1="122.70" y1="283.00" x2="122.70" y2="281.60" stroke="#222" stroke-width="0.6"/>
<line x1="127.25" y1="283.00" x2="127.25" y2="281.60" stroke="#222" stroke-width="0.6"/>
<line x1="131.80" y1="283.00" x2="131.80" y2="281.60" stroke="#222" stroke-width="0.6"/>
<line x1="136.35" y1="283.00" x2="136.35" y2="281.60" stroke="#222" stroke-width="0.6"/>
<line x1="140.90" y1="283.00" x2="140.90" y2="281.60" stroke="#222" stroke-width="0.6"/>
<line x1="145.45" y1="283.00" x2="145.45" y2="281.60" stroke="#222" stroke-width="0.6"/>
<line x1="150.00" y1="283.00" x2="150.00" y2="281.60" stroke="#222" stroke-width="0.6"/>
<line x1="154.55" y1="283.00" x2="154.55" y2="281.60" stroke="#222" stroke-width="0.6"/>
<line x1="159.10" y1="283.00" x2="159.10" y2="281.60" stroke="#222" stroke-width="0.6"/>
<line x1="163.65" y1="283.00" x2="163.65" y2="281.60" stroke="#222" stroke-width="0.6"/>
<line x1="168.20" y1="283.00" x2="168.20" y2="281.60" stroke="#222" stroke-width="0.6"/>
<line x1="31.80" y1="178.20" x2="44.40" y2="178.20" stroke="#222" stroke-width="0.8"/>
<circle cx="37.60" cy="178.20" r="2.2" fill="url(#gb)"/>
<text x="46.00" y="180.60" font-size="7.0" text-anchor="start" fill="#222" stroke="#222" stroke-width="0.18">W/O</text>
<line x1="31.80" y1="185.40" x2="44.40" y2="185.40" stroke="#f22" stroke-width="0.8"/>
<circle cx="37.60" cy="185.40" r="2.2" fill="url(#gr)"/>
<text x="46.00" y="187.80" font-size="7.0" text-anchor="start" fill="#222" stroke="#222" stroke-width="0.18">W/</text>
<text x="202.80" y="158.40" font-size="12" text-anchor="start" fill="#222" stroke="#222" stroke-width="0.18">(e)</text>
<polyline points="221.50,275.50 223.76,275.46 226.82,275.41 230.47,275.34 234.50,275.28 238.68,275.20 242.80,275.13 246.65,275.06 250.00,275.00 253.01,274.95 255.96,274.90 258.81,274.85 261.51,274.80 264.02,274.75 266.30,274.70 268.30,274.65 270.00,274.60 271.30,274.59 272.20,274.66 272.79,274.76 273.18,274.84 273.44,274.86 273.67,274.77 273.96,274.53 274.40,274.10 274.95,273.51 275.50,272.81 276.05,272.00 276.61,271.06 277.16,269.99 277.71,268.78 278.25,267.42 278.80,265.90 279.34,264.16 279.88,262.18 280.42,260.02 280.95,257.73 281.48,255.37 282.02,252.99 282.56,250.65 283.10,248.40 283.65,246.19 284.19,243.96 284.74,241.71 285.29,239.47 285.85,237.25 286.40,235.07 286.95,232.95 287.50,230.90 288.05,228.92 288.60,226.98 289.15,225.09 289.70,223.24 290.25,221.44 290.80,219.68 291.35,217.97 291.90,216.30 292.46,214.65 293.04,213.00 293.62,211.38 294.19,209.81 294.76,208.33 295.31,206.94 295.82,205.69 296.30,204.60 296.73,203.69 297.13,202.95 297.50,202.35 297.84,201.85 298.18,201.42 298.51,201.02 298.85,200.63 299.20,200.20 299.55,199.75 299.89,199.32 300.22,198.91 300.56,198.53 300.90,198.18 301.27,197.85 301.67,197.56 302.10,197.30 302.58,197.07 303.12,196.87 303.68,196.70 304.26,196.56 304.85,196.45 305.43,196.39 305.98,196.37 306.50,196.40 306.95,196.46 307.35,196.53 307.71,196.64 308.07,196.79 308.45,197.00 308.88,197.30 309.39,197.69 310.00,198.20 310.73,198.86 311.55,199.68 312.44,200.60 313.39,201.61 314.37,202.64 315.36,203.66 316.34,204.63 317.30,205.50 318.22,206.24 319.12,206.86 320.01,207.42 320.91,207.97 321.85,208.58 322.83,209.28 323.87,210.13 325.00,211.20 326.20,212.50 327.44,214.00 328.72,215.65 330.07,217.41 331.47,219.22 332.94,221.03 334.48,222.81 336.10,224.50 337.85,226.17 339.77,227.89 341.78,229.63 343.85,231.35 345.91,233.01 347.91,234.58 349.79,236.02 351.50,237.30 353.10,238.42 354.68,239.44 356.19,240.35 357.61,241.15 358.92,241.85 360.07,242.46 361.04,242.98 361.80,243.40" fill="none" stroke="#f33" stroke-width="1.0" stroke-linejoin="round"/>
<polyline points="274.40,274.50 275.64,274.41 277.33,274.28 279.35,274.13 281.57,273.96 283.87,273.79 286.13,273.61 288.21,273.45 290.00,273.30 291.53,273.17 292.95,273.05 294.26,272.93 295.49,272.81 296.66,272.70 297.79,272.57 298.89,272.44 300.00,272.30 301.11,272.16 302.22,272.02 303.30,271.89 304.34,271.74 305.33,271.58 306.25,271.39 307.07,271.17 307.80,270.90 308.40,270.62 308.89,270.34 309.29,270.04 309.62,269.71 309.90,269.32 310.16,268.86 310.42,268.29 310.70,267.60 310.98,266.77 311.24,265.81 311.48,264.74 311.71,263.60 311.92,262.41 312.14,261.19 312.36,259.98 312.60,258.80 312.85,257.62 313.10,256.41 313.35,255.18 313.60,253.94 313.85,252.70 314.10,251.48 314.35,250.27 314.60,249.10 314.84,247.95 315.06,246.81 315.28,245.68 315.49,244.57 315.72,243.48 315.96,242.42 316.22,241.39 316.50,240.40 316.81,239.43 317.13,238.46 317.47,237.51 317.82,236.60 318.20,235.74 318.58,234.94 318.98,234.22 319.40,233.60 319.84,233.08 320.30,232.64 320.79,232.28 321.29,231.98 321.79,231.75 322.30,231.56 322.81,231.41 323.30,231.30 323.77,231.22 324.23,231.20 324.68,231.22 325.13,231.29 325.60,231.40 326.09,231.56 326.62,231.76 327.20,232.00 327.83,232.30 328.49,232.67 329.18,233.09 329.91,233.55 330.65,234.04 331.42,234.53 332.20,235.02 333.00,235.50 333.79,235.95 334.56,236.40 335.34,236.84 336.14,237.29 336.99,237.76 337.91,238.26 338.90,238.80 340.00,239.40 341.23,240.05 342.59,240.76 344.04,241.51 345.54,242.29 347.08,243.09 348.60,243.90 350.09,244.70 351.50,245.50 352.92,246.34 354.40,247.25 355.90,248.19 357.37,249.13 358.74,250.02 359.98,250.82 361.01,251.50 361.80,252.00" fill="none" stroke="#222" stroke-width="1.0" stroke-linejoin="round"/>
<rect x="221.2" y="171.6" width="140.60" height="111.90" fill="none" stroke="#555" stroke-width="0.9"/>
<text x="222.00" y="292.00" font-size="8.6" text-anchor="middle" fill="#333" stroke="#333" stroke-width="0.18">18.0</text>
<text x="243.58" y="292.00" font-size="8.6" text-anchor="middle" fill="#333" stroke="#333" stroke-width="0.18">17.5</text>
<text x="265.17" y="292.00" font-size="8.6" text-anchor="middle" fill="#333" stroke="#333" stroke-width="0.18">17.0</text>
<text x="286.75" y="292.00" font-size="8.6" text-anchor="middle" fill="#333" stroke="#333" stroke-width="0.18">16.5</text>
<text x="308.33" y="292.00" font-size="8.6" text-anchor="middle" fill="#333" stroke="#333" stroke-width="0.18">16.0</text>
<text x="329.92" y="292.00" font-size="8.6" text-anchor="middle" fill="#333" stroke="#333" stroke-width="0.18">15.5</text>
<text x="351.50" y="292.00" font-size="8.6" text-anchor="middle" fill="#333" stroke="#333" stroke-width="0.18">15.0</text>
<line x1="229.19" y1="283.50" x2="229.19" y2="282.00" stroke="#444" stroke-width="0.8"/>
<line x1="236.39" y1="283.50" x2="236.39" y2="282.00" stroke="#444" stroke-width="0.8"/>
<line x1="243.58" y1="283.50" x2="243.58" y2="282.00" stroke="#444" stroke-width="0.8"/>
<line x1="250.78" y1="283.50" x2="250.78" y2="282.00" stroke="#444" stroke-width="0.8"/>
<line x1="257.97" y1="283.50" x2="257.97" y2="282.00" stroke="#444" stroke-width="0.8"/>
<line x1="265.17" y1="283.50" x2="265.17" y2="282.00" stroke="#444" stroke-width="0.8"/>
<line x1="272.36" y1="283.50" x2="272.36" y2="282.00" stroke="#444" stroke-width="0.8"/>
<line x1="279.56" y1="283.50" x2="279.56" y2="282.00" stroke="#444" stroke-width="0.8"/>
<line x1="286.75" y1="283.50" x2="286.75" y2="282.00" stroke="#444" stroke-width="0.8"/>
<line x1="293.94" y1="283.50" x2="293.94" y2="282.00" stroke="#444" stroke-width="0.8"/>
<line x1="301.14" y1="283.50" x2="301.14" y2="282.00" stroke="#444" stroke-width="0.8"/>
<line x1="308.33" y1="283.50" x2="308.33" y2="282.00" stroke="#444" stroke-width="0.8"/>
<line x1="315.53" y1="283.50" x2="315.53" y2="282.00" stroke="#444" stroke-width="0.8"/>
<line x1="322.72" y1="283.50" x2="322.72" y2="282.00" stroke="#444" stroke-width="0.8"/>
<line x1="329.92" y1="283.50" x2="329.92" y2="282.00" stroke="#444" stroke-width="0.8"/>
<line x1="337.11" y1="283.50" x2="337.11" y2="282.00" stroke="#444" stroke-width="0.8"/>
<line x1="344.31" y1="283.50" x2="344.31" y2="282.00" stroke="#444" stroke-width="0.8"/>
<line x1="351.50" y1="283.50" x2="351.50" y2="282.00" stroke="#444" stroke-width="0.8"/>
<line x1="358.69" y1="283.50" x2="358.69" y2="282.00" stroke="#444" stroke-width="0.8"/>
<text x="291.70" y="304.60" font-size="8.7" text-anchor="middle" fill="#333" stroke="#333" stroke-width="0.18">Binding Energy (eV)</text>
<text x="212.80" y="230.00" font-size="8.7" text-anchor="middle" fill="#333" stroke="#333" stroke-width="0.18" transform="rotate(-90 212.8 230.0)">Intensity (a.u.)</text>
<line x1="327.50" y1="183.60" x2="338.30" y2="183.60" stroke="#555" stroke-width="1.5"/>
<text x="340.50" y="186.20" font-size="7.0" text-anchor="start" fill="#222" stroke="#222" stroke-width="0.18">W/O</text>
<line x1="327.50" y1="191.90" x2="338.30" y2="191.90" stroke="#f33" stroke-width="0.9"/>
<text x="340.50" y="194.50" font-size="7.0" text-anchor="start" fill="#222" stroke="#222" stroke-width="0.18">W/</text>
<text x="266.00" y="259.00" font-size="7.0" text-anchor="middle" fill="#333" stroke="#333" stroke-width="0.18">16.8 eV</text>
<line x1="267.70" y1="261.30" x2="274.80" y2="272.70" stroke="#f66" stroke-width="0.6"/>
<text x="335.60" y="264.00" font-size="7.0" text-anchor="middle" fill="#333" stroke="#333" stroke-width="0.18">16.04 eV</text>
<line x1="320.40" y1="264.30" x2="309.70" y2="271.80" stroke="#888" stroke-width="0.6"/>
<circle cx="309.7" cy="272" r="1" fill="none" stroke="#bbb" stroke-width="0.5"/>
<text x="381.60" y="158.40" font-size="12" text-anchor="start" fill="#222" stroke="#222" stroke-width="0.18">(f)</text>
<polyline points="403.20,185.33 404.23,185.46 405.67,186.34 407.38,186.76 409.19,187.22 410.98,188.02 412.60,188.02 414.03,188.60 415.39,189.22 416.73,189.76 418.07,190.81 419.48,191.45 421.00,191.87 422.69,192.73 424.53,193.69 426.43,194.93 428.30,195.93 430.06,196.97 431.60,197.32 432.80,198.21 433.71,198.28 434.49,198.55 435.34,198.72 436.41,198.96 437.90,199.68 439.89,200.00 442.25,200.11 444.85,200.07 447.54,200.36 450.17,200.65 452.60,201.11 454.88,201.71 457.14,201.69 459.34,202.37 461.46,202.89 463.46,202.95 465.30,203.66 466.93,204.36 468.36,204.71 469.67,205.15 470.94,205.95 472.26,206.39 473.70,206.90 475.23,207.66 476.77,208.75 478.36,209.52 480.03,210.45 481.79,211.23 483.70,212.09 485.86,213.38 488.28,214.93 490.80,216.63 493.28,217.78 495.56,219.81 497.50,221.27 499.05,222.46 500.33,223.43 501.42,225.15 502.39,226.23 503.32,227.80 504.30,229.34 505.29,231.28 506.23,233.12 507.13,235.60 508.01,237.79 508.90,239.92 509.80,241.77 510.72,243.55 511.63,245.55 512.55,247.41 513.47,249.63 514.38,251.30 515.30,253.22 516.20,254.71 517.08,256.33 517.96,256.99 518.86,257.41 519.80,259.19 520.80,259.17 521.82,260.52 522.83,260.25 523.88,261.95 525.01,261.68 526.27,261.71 527.70,263.36 529.48,262.46 531.62,264.66 533.88,265.05 536.05,264.61 537.90,266.27 539.20,266.33" fill="none" stroke="#f22" stroke-width="1.25" stroke-linejoin="round"/>
<polyline points="403.20,185.34 404.23,185.46 405.67,185.78 407.38,186.59 409.19,186.63 410.98,187.61 412.60,187.76 414.03,188.41 415.39,188.86 416.73,189.89 418.07,190.23 419.48,191.04 421.00,191.45 422.69,192.54 424.53,193.39 426.43,194.00 428.30,195.16 430.06,196.14 431.60,196.53 432.80,197.32 433.71,197.50 434.49,197.88 435.34,198.49 436.41,198.77 437.90,199.10 439.89,199.06 442.25,199.44 444.85,199.85 447.54,200.11 450.17,200.23 452.60,200.82 454.88,200.92 457.14,201.66 459.34,201.81 461.46,202.05 463.46,202.88 465.30,202.99 466.93,203.76 468.36,203.81 469.67,204.82 470.94,205.03 472.26,205.70 473.70,205.98 475.23,207.03 476.77,207.70 478.36,208.52 480.03,209.81 481.79,210.32 483.70,211.59 485.84,212.38 488.23,213.91 490.71,215.05 493.17,215.66 495.48,217.05 497.50,218.18 499.22,219.40 500.75,220.43 502.12,221.22 503.37,222.66 504.55,223.42 505.70,224.78 506.77,226.79 507.73,228.14 508.62,230.06 509.47,232.21 510.31,234.11 511.20,236.00 512.13,238.52 513.09,240.44 514.04,242.85 514.97,244.69 515.86,247.09 516.70,248.43 517.43,250.34 518.07,251.61 518.66,253.42 519.28,254.09 519.97,254.77 520.80,255.46 521.73,256.78 522.72,256.61 523.79,256.46 524.96,258.38 526.25,258.67 527.70,259.03 529.48,259.89 531.62,259.83 533.88,261.14 536.05,262.64 537.90,263.62 539.20,264.06" fill="none" stroke="#222" stroke-width="1.25" stroke-linejoin="round"/>
<circle cx="505.7" cy="224.4" r="1.1" fill="none" stroke="#999" stroke-width="0.5"/>
<circle cx="518.9" cy="257.6" r="1.1" fill="none" stroke="#f99" stroke-width="0.5"/>
<rect x="403.3" y="170.5" width="136.00" height="108.50" fill="none" stroke="#444" stroke-width="0.9"/>
<text x="403.20" y="287.00" font-size="8.4" text-anchor="middle" fill="#222" stroke="#222" stroke-width="0.18">4</text>
<text x="437.20" y="287.00" font-size="8.4" text-anchor="middle" fill="#222" stroke="#222" stroke-width="0.18">3</text>
<text x="471.20" y="287.00" font-size="8.4" text-anchor="middle" fill="#222" stroke="#222" stroke-width="0.18">2</text>
<text x="505.20" y="287.00" font-size="8.4" text-anchor="middle" fill="#222" stroke="#222" stroke-width="0.18">1</text>
<text x="539.20" y="287.00" font-size="8.4" text-anchor="middle" fill="#222" stroke="#222" stroke-width="0.18">0</text>
<line x1="414.53" y1="279.00" x2="414.53" y2="277.50" stroke="#444" stroke-width="0.8"/>
<line x1="425.87" y1="279.00" x2="425.87" y2="277.50" stroke="#444" stroke-width="0.8"/>
<line x1="437.20" y1="279.00" x2="437.20" y2="277.50" stroke="#444" stroke-width="0.8"/>
<line x1="448.53" y1="279.00" x2="448.53" y2="277.50" stroke="#444" stroke-width="0.8"/>
<line x1="459.87" y1="279.00" x2="459.87" y2="277.50" stroke="#444" stroke-width="0.8"/>
<line x1="471.20" y1="279.00" x2="471.20" y2="277.50" stroke="#444" stroke-width="0.8"/>
<line x1="482.53" y1="279.00" x2="482.53" y2="277.50" stroke="#444" stroke-width="0.8"/>
<line x1="493.87" y1="279.00" x2="493.87" y2="277.50" stroke="#444" stroke-width="0.8"/>
<line x1="505.20" y1="279.00" x2="505.20" y2="277.50" stroke="#444" stroke-width="0.8"/>
<line x1="516.53" y1="279.00" x2="516.53" y2="277.50" stroke="#444" stroke-width="0.8"/>
<line x1="527.87" y1="279.00" x2="527.87" y2="277.50" stroke="#444" stroke-width="0.8"/>
<text x="471.30" y="297.40" font-size="8.5" text-anchor="middle" fill="#222" stroke="#222" stroke-width="0.18">Binding Energy (eV)</text>
<text x="395.00" y="227.30" font-size="8.4" text-anchor="middle" fill="#222" stroke="#222" stroke-width="0.18" transform="rotate(-90 395.0 227.3)">Intensity (a.u.)</text>
<line x1="505.30" y1="178.40" x2="515.60" y2="178.40" stroke="#f33" stroke-width="1.1"/>
<text x="517.40" y="181.10" font-size="7.0" text-anchor="start" fill="#222" stroke="#222" stroke-width="0.18">W/O</text>
<line x1="505.30" y1="187.00" x2="515.60" y2="187.00" stroke="#333" stroke-width="1.1"/>
<text x="517.40" y="189.70" font-size="7.0" text-anchor="start" fill="#222" stroke="#222" stroke-width="0.18">W/</text>
<text x="525.90" y="236.30" font-size="7.0" text-anchor="middle" fill="#222" stroke="#222" stroke-width="0.18">0.47 eV</text>
<text x="497.50" y="260.80" font-size="7.0" text-anchor="middle" fill="#f22" stroke="#f22" stroke-width="0.18">0.62 eV</text>
</svg></body></html>
